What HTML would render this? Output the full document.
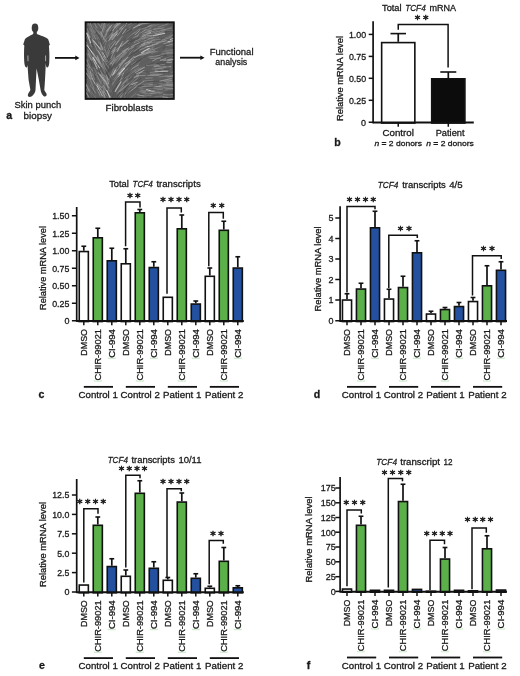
<!DOCTYPE html>
<html lang="en"><head><meta charset="utf-8"><title>Figure</title>
<style>html,body{margin:0;padding:0;background:#fff}body{width:520px;height:676px;overflow:hidden}svg{display:block}text{white-space:pre;stroke:#1a1a1a;stroke-width:.3px}</style>
</head><body>
<svg width="520" height="676" viewBox="0 0 520 676" font-family='"Liberation Sans", sans-serif' fill="#1a1a1a">
<rect width="520" height="676" fill="#ffffff"/>
<g id="pa">
<g fill="#3a3a3a"><ellipse cx="35" cy="27.9" rx="3.3" ry="4.3"/><path d="M33.4 30.5 L33.2 34 C31 35.5 27 36.5 25 39 L23.2 44.6 L24.3 45.6 C24 50 23.9 56 24.2 61 C24.3 64 24.8 67 26.3 67.6 C27.8 67.4 28.2 64 28 61 L27.7 68 L28.6 80 L30.4 90 C29.5 92 27.3 94 27.9 96 C29 97.9 32 97.2 33.5 94.6 C34.8 93 35.3 91.5 35.5 90 L36.2 76 L36.6 68.5 L38.5 78 L40.6 90 C40.8 92 42 94.5 43.5 96 C45 97.2 47.2 96.2 46.6 94 C46 92.5 44.8 91.5 44.3 90 L45 80 L45.6 68 L45.6 61 C45.5 64 46 67.4 47.4 67.6 C48.9 67 49.3 64 49.3 61 C49.6 56 49.3 50 48.9 45.8 L49.9 44.8 L48.3 39.5 C46.5 36.8 39.5 35.5 36.9 34 L36.7 30.5 Z"/></g>
<path d="M27.9 55.5L28 61.2M45.6 55.5L45.6 61.2" stroke="#d8d8d8" stroke-width="0.7" fill="none"/>
<line x1="55" y1="57.9" x2="76.5" y2="57.9" stroke="#111111" stroke-width="1.8" stroke-linecap="butt"/>
<path d="M79.5 57.9L75.3 55.6L75.3 60.199999999999996Z" fill="#111111"/>
<line x1="180" y1="57.7" x2="201.6" y2="57.7" stroke="#111111" stroke-width="1.8" stroke-linecap="butt"/>
<path d="M204.6 57.7L200.4 55.400000000000006L200.4 60.0Z" fill="#111111"/>
<rect x="85.6" y="22.3" width="88.2" height="76.6" fill="#606060" stroke="#111" stroke-width="1.9"/>
<g clip-path="url(#clipimg)" stroke-linecap="round" fill="none" filter="url(#soft)">
<path d="M111.6 37.9L117.1 30.5" stroke="rgb(138,138,138)" stroke-opacity="0.82" stroke-width="0.67"/>
<path d="M95.4 57.2L91.9 51.2" stroke="rgb(213,213,213)" stroke-opacity="0.85" stroke-width="0.62"/>
<path d="M107.0 73.7L104.3 66.0" stroke="rgb(63,63,63)" stroke-opacity="0.62" stroke-width="0.62"/>
<path d="M119.5 67.0L125.8 59.7" stroke="rgb(221,221,221)" stroke-opacity="0.63" stroke-width="0.86"/>
<path d="M100.8 34.8L104.3 25.5" stroke="rgb(169,169,169)" stroke-opacity="0.65" stroke-width="0.72"/>
<path d="M134.3 59.1L140.0 54.5" stroke="rgb(84,84,84)" stroke-opacity="0.71" stroke-width="0.60"/>
<path d="M110.0 64.3L114.6 55.6" stroke="rgb(167,167,167)" stroke-opacity="0.65" stroke-width="0.97"/>
<path d="M100.4 61.9L98.4 57.0" stroke="rgb(86,86,86)" stroke-opacity="0.62" stroke-width="0.98"/>
<path d="M152.0 50.0L162.8 46.6" stroke="rgb(140,140,140)" stroke-opacity="0.83" stroke-width="0.81"/>
<path d="M138.9 28.8L149.1 26.1" stroke="rgb(83,83,83)" stroke-opacity="0.73" stroke-width="0.71"/>
<path d="M117.5 75.1L122.1 70.7" stroke="rgb(138,138,138)" stroke-opacity="0.58" stroke-width="0.71"/>
<path d="M144.5 54.2L156.4 51.1" stroke="rgb(145,145,145)" stroke-opacity="0.66" stroke-width="0.85"/>
<path d="M158.9 84.1L167.2 84.3" stroke="rgb(159,159,159)" stroke-opacity="0.84" stroke-width="0.63"/>
<path d="M103.4 43.2L99.7 37.3" stroke="rgb(172,172,172)" stroke-opacity="0.56" stroke-width="0.71"/>
<path d="M100.5 65.4L97.3 60.4" stroke="rgb(81,81,81)" stroke-opacity="0.66" stroke-width="0.96"/>
<path d="M121.8 92.8L130.1 83.3" stroke="rgb(79,79,79)" stroke-opacity="0.56" stroke-width="0.77"/>
<path d="M96.7 73.4L93.8 67.3" stroke="rgb(156,156,156)" stroke-opacity="0.71" stroke-width="0.61"/>
<path d="M130.1 66.3L140.9 59.8" stroke="rgb(64,64,64)" stroke-opacity="0.75" stroke-width="0.89"/>
<path d="M100.7 44.3L97.5 39.2" stroke="rgb(76,76,76)" stroke-opacity="0.59" stroke-width="0.72"/>
<path d="M100.8 84.0L96.6 73.9" stroke="rgb(179,179,179)" stroke-opacity="0.56" stroke-width="0.56"/>
<path d="M166.3 62.7L171.5 62.2" stroke="rgb(176,176,176)" stroke-opacity="0.80" stroke-width="0.93"/>
<path d="M107.1 52.9L110.8 47.8" stroke="rgb(79,79,79)" stroke-opacity="0.62" stroke-width="0.83"/>
<path d="M138.5 70.0L144.6 67.5" stroke="rgb(160,160,160)" stroke-opacity="0.76" stroke-width="0.67"/>
<path d="M129.5 51.4L133.0 47.6" stroke="rgb(152,152,152)" stroke-opacity="0.67" stroke-width="0.66"/>
<path d="M135.3 50.2L142.4 47.1" stroke="rgb(64,64,64)" stroke-opacity="0.49" stroke-width="0.67"/>
<path d="M106.4 42.1L100.2 34.3" stroke="rgb(88,88,88)" stroke-opacity="0.40" stroke-width="1.05"/>
<path d="M113.7 74.3L118.5 67.7" stroke="rgb(68,68,68)" stroke-opacity="0.59" stroke-width="0.65"/>
<path d="M149.4 49.3L160.3 46.2" stroke="rgb(74,74,74)" stroke-opacity="0.59" stroke-width="0.96"/>
<path d="M95.7 39.1L91.4 30.4" stroke="rgb(176,176,176)" stroke-opacity="0.55" stroke-width="1.00"/>
<path d="M167.6 72.2L175.4 71.9" stroke="rgb(143,143,143)" stroke-opacity="0.51" stroke-width="0.99"/>
<path d="M143.2 32.3L155.6 28.8" stroke="rgb(148,148,148)" stroke-opacity="0.51" stroke-width="0.67"/>
<path d="M127.0 82.6L132.6 77.4" stroke="rgb(143,143,143)" stroke-opacity="0.52" stroke-width="0.96"/>
<path d="M158.5 72.3L170.1 72.6" stroke="rgb(66,66,66)" stroke-opacity="0.61" stroke-width="0.84"/>
<path d="M89.7 58.4L85.9 53.2" stroke="rgb(144,144,144)" stroke-opacity="0.56" stroke-width="0.81"/>
<path d="M144.9 66.2L153.7 62.8" stroke="rgb(65,65,65)" stroke-opacity="0.75" stroke-width="0.58"/>
<path d="M101.3 28.5L104.4 23.6" stroke="rgb(136,136,136)" stroke-opacity="0.77" stroke-width="1.05"/>
<path d="M121.5 72.9L128.0 64.5" stroke="rgb(169,169,169)" stroke-opacity="0.78" stroke-width="0.83"/>
<path d="M105.4 67.6L110.1 56.5" stroke="rgb(79,79,79)" stroke-opacity="0.76" stroke-width="0.66"/>
<path d="M121.6 57.9L128.7 50.3" stroke="rgb(148,148,148)" stroke-opacity="0.73" stroke-width="0.98"/>
<path d="M159.0 35.4L169.5 33.5" stroke="rgb(66,66,66)" stroke-opacity="0.50" stroke-width="0.63"/>
<path d="M124.2 80.4L129.6 77.1" stroke="rgb(69,69,69)" stroke-opacity="0.46" stroke-width="0.79"/>
<path d="M128.2 49.8L133.9 46.7" stroke="rgb(181,181,181)" stroke-opacity="0.63" stroke-width="0.74"/>
<path d="M123.7 78.3L128.5 72.7" stroke="rgb(65,65,65)" stroke-opacity="0.79" stroke-width="0.98"/>
<path d="M167.2 31.3L174.3 30.2" stroke="rgb(184,184,184)" stroke-opacity="0.56" stroke-width="0.97"/>
<path d="M153.5 87.1L161.6 85.8" stroke="rgb(167,167,167)" stroke-opacity="0.70" stroke-width="0.94"/>
<path d="M97.6 31.1L90.4 23.4" stroke="rgb(139,139,139)" stroke-opacity="0.59" stroke-width="0.56"/>
<path d="M95.8 45.4L92.0 39.4" stroke="rgb(135,135,135)" stroke-opacity="0.62" stroke-width="0.85"/>
<path d="M163.9 43.8L169.7 42.1" stroke="rgb(150,150,150)" stroke-opacity="0.83" stroke-width="1.08"/>
<path d="M106.0 40.0L112.0 32.9" stroke="rgb(163,163,163)" stroke-opacity="0.68" stroke-width="0.65"/>
<path d="M114.3 27.1L118.5 21.5" stroke="rgb(181,181,181)" stroke-opacity="0.68" stroke-width="1.09"/>
<path d="M127.4 44.9L134.5 37.6" stroke="rgb(79,79,79)" stroke-opacity="0.73" stroke-width="0.77"/>
<path d="M125.0 78.1L135.5 70.6" stroke="rgb(180,180,180)" stroke-opacity="0.76" stroke-width="0.63"/>
<path d="M167.3 96.5L177.3 96.2" stroke="rgb(75,75,75)" stroke-opacity="0.47" stroke-width="0.60"/>
<path d="M154.2 88.3L164.6 87.7" stroke="rgb(150,150,150)" stroke-opacity="0.74" stroke-width="0.57"/>
<path d="M103.7 46.6L100.9 39.5" stroke="rgb(72,72,72)" stroke-opacity="0.50" stroke-width="1.08"/>
<path d="M111.7 51.6L114.6 47.5" stroke="rgb(165,165,165)" stroke-opacity="0.60" stroke-width="0.91"/>
<path d="M108.7 83.9L106.9 78.0" stroke="rgb(235,235,235)" stroke-opacity="0.61" stroke-width="0.72"/>
<path d="M108.1 71.0L104.8 62.4" stroke="rgb(83,83,83)" stroke-opacity="0.76" stroke-width="0.98"/>
<path d="M135.0 82.0L141.2 78.2" stroke="rgb(66,66,66)" stroke-opacity="0.42" stroke-width="1.01"/>
<path d="M158.4 70.8L169.2 68.9" stroke="rgb(66,66,66)" stroke-opacity="0.76" stroke-width="0.96"/>
<path d="M130.4 85.9L140.9 81.5" stroke="rgb(84,84,84)" stroke-opacity="0.66" stroke-width="0.60"/>
<path d="M92.7 76.2L87.0 64.9" stroke="rgb(163,163,163)" stroke-opacity="0.70" stroke-width="0.90"/>
<path d="M135.0 74.1L146.4 73.6" stroke="rgb(78,78,78)" stroke-opacity="0.76" stroke-width="0.60"/>
<path d="M128.4 81.3L135.5 76.0" stroke="rgb(70,70,70)" stroke-opacity="0.49" stroke-width="0.97"/>
<path d="M108.1 73.6L104.4 69.4" stroke="rgb(71,71,71)" stroke-opacity="0.71" stroke-width="0.89"/>
<path d="M139.2 29.8L145.0 27.6" stroke="rgb(182,182,182)" stroke-opacity="0.74" stroke-width="0.89"/>
<path d="M99.9 61.0L95.7 57.0" stroke="rgb(166,166,166)" stroke-opacity="0.60" stroke-width="0.83"/>
<path d="M124.3 59.7L128.9 55.9" stroke="rgb(68,68,68)" stroke-opacity="0.52" stroke-width="0.60"/>
<path d="M121.9 48.1L132.8 41.1" stroke="rgb(74,74,74)" stroke-opacity="0.48" stroke-width="1.07"/>
<path d="M105.8 69.2L103.3 63.6" stroke="rgb(158,158,158)" stroke-opacity="0.55" stroke-width="1.00"/>
<path d="M125.9 93.2L135.1 85.2" stroke="rgb(136,136,136)" stroke-opacity="0.56" stroke-width="1.07"/>
<path d="M140.6 55.6L150.4 50.9" stroke="rgb(159,159,159)" stroke-opacity="0.61" stroke-width="1.01"/>
<path d="M89.1 84.6L83.6 73.5" stroke="rgb(85,85,85)" stroke-opacity="0.52" stroke-width="0.75"/>
<path d="M117.8 101.7L123.0 93.5" stroke="rgb(162,162,162)" stroke-opacity="0.76" stroke-width="1.02"/>
<path d="M109.1 29.4L112.2 24.1" stroke="rgb(75,75,75)" stroke-opacity="0.60" stroke-width="0.65"/>
<path d="M116.1 99.9L121.3 89.0" stroke="rgb(82,82,82)" stroke-opacity="0.56" stroke-width="1.03"/>
<path d="M130.5 39.4L138.3 36.8" stroke="rgb(66,66,66)" stroke-opacity="0.66" stroke-width="0.71"/>
<path d="M91.5 95.0L89.4 89.4" stroke="rgb(156,156,156)" stroke-opacity="0.60" stroke-width="0.69"/>
<path d="M146.1 72.2L154.9 71.3" stroke="rgb(65,65,65)" stroke-opacity="0.47" stroke-width="0.64"/>
<path d="M106.2 94.7L102.4 86.6" stroke="rgb(156,156,156)" stroke-opacity="0.85" stroke-width="0.80"/>
<path d="M99.5 39.9L97.2 34.6" stroke="rgb(151,151,151)" stroke-opacity="0.78" stroke-width="0.66"/>
<path d="M89.6 91.7L86.3 84.4" stroke="rgb(68,68,68)" stroke-opacity="0.55" stroke-width="0.74"/>
<path d="M93.5 47.8L89.7 39.6" stroke="rgb(68,68,68)" stroke-opacity="0.44" stroke-width="1.04"/>
<path d="M117.0 74.5L122.3 67.9" stroke="rgb(136,136,136)" stroke-opacity="0.54" stroke-width="0.78"/>
<path d="M149.9 82.8L155.4 83.3" stroke="rgb(88,88,88)" stroke-opacity="0.61" stroke-width="0.81"/>
<path d="M122.9 83.9L127.6 79.0" stroke="rgb(178,178,178)" stroke-opacity="0.54" stroke-width="1.00"/>
<path d="M141.6 86.2L152.8 86.2" stroke="rgb(143,143,143)" stroke-opacity="0.58" stroke-width="1.06"/>
<path d="M139.6 46.9L145.1 44.3" stroke="rgb(175,175,175)" stroke-opacity="0.65" stroke-width="0.97"/>
<path d="M96.3 48.6L93.4 42.1" stroke="rgb(62,62,62)" stroke-opacity="0.40" stroke-width="0.72"/>
<path d="M122.8 98.3L129.7 90.9" stroke="rgb(77,77,77)" stroke-opacity="0.61" stroke-width="0.85"/>
<path d="M90.4 56.6L87.1 50.8" stroke="rgb(82,82,82)" stroke-opacity="0.57" stroke-width="0.69"/>
<path d="M140.9 92.3L147.7 91.9" stroke="rgb(156,156,156)" stroke-opacity="0.75" stroke-width="0.75"/>
<path d="M118.9 25.5L122.5 21.3" stroke="rgb(147,147,147)" stroke-opacity="0.61" stroke-width="1.00"/>
<path d="M102.7 43.7L109.8 35.2" stroke="rgb(174,174,174)" stroke-opacity="0.67" stroke-width="0.65"/>
<path d="M107.5 56.6L103.8 51.6" stroke="rgb(148,148,148)" stroke-opacity="0.51" stroke-width="0.88"/>
<path d="M120.8 78.9L123.8 73.1" stroke="rgb(180,180,180)" stroke-opacity="0.81" stroke-width="0.95"/>
<path d="M166.8 93.0L179.2 92.1" stroke="rgb(63,63,63)" stroke-opacity="0.52" stroke-width="0.95"/>
<path d="M154.9 96.4L163.5 96.7" stroke="rgb(140,140,140)" stroke-opacity="0.60" stroke-width="0.74"/>
<path d="M165.5 32.8L173.2 31.5" stroke="rgb(88,88,88)" stroke-opacity="0.72" stroke-width="0.60"/>
<path d="M143.1 39.1L152.0 36.0" stroke="rgb(155,155,155)" stroke-opacity="0.63" stroke-width="1.04"/>
<path d="M89.9 56.1L87.8 51.2" stroke="rgb(139,139,139)" stroke-opacity="0.78" stroke-width="0.58"/>
<path d="M101.9 32.4L104.4 22.8" stroke="rgb(156,156,156)" stroke-opacity="0.84" stroke-width="0.89"/>
<path d="M110.3 78.7L107.7 74.3" stroke="rgb(87,87,87)" stroke-opacity="0.65" stroke-width="1.07"/>
<path d="M90.0 44.4L86.6 36.3" stroke="rgb(86,86,86)" stroke-opacity="0.55" stroke-width="0.69"/>
<path d="M119.3 63.5L127.9 56.1" stroke="rgb(88,88,88)" stroke-opacity="0.68" stroke-width="0.63"/>
<path d="M108.9 91.1L104.6 83.6" stroke="rgb(81,81,81)" stroke-opacity="0.43" stroke-width="0.66"/>
<path d="M147.1 42.4L156.3 40.4" stroke="rgb(162,162,162)" stroke-opacity="0.81" stroke-width="1.09"/>
<path d="M107.6 31.6L110.9 26.8" stroke="rgb(180,180,180)" stroke-opacity="0.84" stroke-width="0.65"/>
<path d="M99.7 61.6L95.9 53.1" stroke="rgb(86,86,86)" stroke-opacity="0.45" stroke-width="1.01"/>
<path d="M110.0 68.9L113.5 61.7" stroke="rgb(68,68,68)" stroke-opacity="0.58" stroke-width="0.65"/>
<path d="M105.3 46.3L108.1 41.6" stroke="rgb(150,150,150)" stroke-opacity="0.68" stroke-width="0.68"/>
<path d="M150.1 72.3L163.0 71.3" stroke="rgb(165,165,165)" stroke-opacity="0.81" stroke-width="0.68"/>
<path d="M123.1 52.6L127.3 49.2" stroke="rgb(247,247,247)" stroke-opacity="0.66" stroke-width="0.59"/>
<path d="M127.0 39.3L134.6 33.1" stroke="rgb(83,83,83)" stroke-opacity="0.78" stroke-width="0.61"/>
<path d="M135.4 70.7L140.8 67.8" stroke="rgb(151,151,151)" stroke-opacity="0.51" stroke-width="0.95"/>
<path d="M160.0 83.4L171.5 84.3" stroke="rgb(158,158,158)" stroke-opacity="0.56" stroke-width="0.72"/>
<path d="M105.4 84.9L102.4 79.9" stroke="rgb(170,170,170)" stroke-opacity="0.55" stroke-width="0.84"/>
<path d="M139.7 54.1L146.3 51.2" stroke="rgb(83,83,83)" stroke-opacity="0.52" stroke-width="1.07"/>
<path d="M110.6 70.6L116.1 60.0" stroke="rgb(73,73,73)" stroke-opacity="0.66" stroke-width="0.76"/>
<path d="M118.5 96.4L124.4 90.3" stroke="rgb(142,142,142)" stroke-opacity="0.79" stroke-width="0.77"/>
<path d="M158.4 58.3L167.6 56.5" stroke="rgb(74,74,74)" stroke-opacity="0.44" stroke-width="0.89"/>
<path d="M116.5 63.0L120.5 58.3" stroke="rgb(168,168,168)" stroke-opacity="0.56" stroke-width="0.59"/>
<path d="M117.1 82.1L122.0 76.5" stroke="rgb(63,63,63)" stroke-opacity="0.79" stroke-width="0.82"/>
<path d="M93.4 95.3L88.2 89.1" stroke="rgb(81,81,81)" stroke-opacity="0.68" stroke-width="1.04"/>
<path d="M138.7 87.5L145.2 86.5" stroke="rgb(171,171,171)" stroke-opacity="0.58" stroke-width="0.77"/>
<path d="M129.1 53.6L133.4 49.6" stroke="rgb(181,181,181)" stroke-opacity="0.79" stroke-width="0.66"/>
<path d="M159.3 86.4L166.9 85.5" stroke="rgb(164,164,164)" stroke-opacity="0.69" stroke-width="0.89"/>
<path d="M110.8 58.7L114.8 49.9" stroke="rgb(177,177,177)" stroke-opacity="0.63" stroke-width="0.83"/>
<path d="M99.5 26.8L104.0 19.5" stroke="rgb(88,88,88)" stroke-opacity="0.58" stroke-width="0.65"/>
<path d="M125.1 32.9L129.7 29.0" stroke="rgb(140,140,140)" stroke-opacity="0.78" stroke-width="0.83"/>
<path d="M139.7 26.7L147.1 25.2" stroke="rgb(64,64,64)" stroke-opacity="0.42" stroke-width="0.83"/>
<path d="M116.9 96.1L121.3 91.9" stroke="rgb(81,81,81)" stroke-opacity="0.69" stroke-width="1.00"/>
<path d="M107.4 100.7L98.7 92.0" stroke="rgb(185,185,185)" stroke-opacity="0.75" stroke-width="0.67"/>
<path d="M155.2 69.1L162.1 68.0" stroke="rgb(174,174,174)" stroke-opacity="0.60" stroke-width="1.00"/>
<path d="M100.1 63.7L97.3 57.2" stroke="rgb(155,155,155)" stroke-opacity="0.63" stroke-width="0.66"/>
<path d="M119.0 73.3L123.6 67.7" stroke="rgb(159,159,159)" stroke-opacity="0.56" stroke-width="0.98"/>
<path d="M99.4 67.7L93.0 57.5" stroke="rgb(247,247,247)" stroke-opacity="0.81" stroke-width="1.04"/>
<path d="M106.2 68.6L110.0 57.4" stroke="rgb(73,73,73)" stroke-opacity="0.51" stroke-width="1.09"/>
<path d="M133.6 51.4L139.2 48.3" stroke="rgb(63,63,63)" stroke-opacity="0.52" stroke-width="0.83"/>
<path d="M111.5 100.9L114.8 89.4" stroke="rgb(72,72,72)" stroke-opacity="0.69" stroke-width="0.96"/>
<path d="M104.2 48.4L106.8 40.9" stroke="rgb(166,166,166)" stroke-opacity="0.58" stroke-width="0.91"/>
<path d="M90.3 26.4L86.0 19.8" stroke="rgb(157,157,157)" stroke-opacity="0.69" stroke-width="0.78"/>
<path d="M111.0 35.7L113.9 30.1" stroke="rgb(150,150,150)" stroke-opacity="0.75" stroke-width="0.80"/>
<path d="M93.4 38.6L90.1 28.8" stroke="rgb(151,151,151)" stroke-opacity="0.84" stroke-width="0.58"/>
<path d="M152.8 90.5L162.5 88.9" stroke="rgb(166,166,166)" stroke-opacity="0.59" stroke-width="1.05"/>
<path d="M92.3 66.1L87.8 59.2" stroke="rgb(138,138,138)" stroke-opacity="0.82" stroke-width="0.61"/>
<path d="M135.4 74.0L143.6 70.0" stroke="rgb(82,82,82)" stroke-opacity="0.66" stroke-width="1.00"/>
<path d="M102.7 49.5L100.0 42.6" stroke="rgb(181,181,181)" stroke-opacity="0.77" stroke-width="0.94"/>
<path d="M89.3 90.9L84.2 81.2" stroke="rgb(149,149,149)" stroke-opacity="0.85" stroke-width="0.69"/>
<path d="M137.0 35.2L147.4 29.0" stroke="rgb(70,70,70)" stroke-opacity="0.68" stroke-width="0.70"/>
<path d="M131.3 57.4L137.4 53.7" stroke="rgb(68,68,68)" stroke-opacity="0.43" stroke-width="0.83"/>
<path d="M104.4 95.3L97.5 85.8" stroke="rgb(145,145,145)" stroke-opacity="0.76" stroke-width="0.73"/>
<path d="M157.9 48.5L167.7 46.5" stroke="rgb(83,83,83)" stroke-opacity="0.74" stroke-width="0.84"/>
<path d="M125.0 63.7L129.5 61.5" stroke="rgb(181,181,181)" stroke-opacity="0.58" stroke-width="1.04"/>
<path d="M151.9 53.3L157.9 51.1" stroke="rgb(142,142,142)" stroke-opacity="0.54" stroke-width="1.06"/>
<path d="M114.7 35.6L117.7 31.4" stroke="rgb(179,179,179)" stroke-opacity="0.73" stroke-width="0.57"/>
<path d="M93.3 29.5L90.9 23.3" stroke="rgb(79,79,79)" stroke-opacity="0.76" stroke-width="0.59"/>
<path d="M155.5 92.5L167.9 90.1" stroke="rgb(148,148,148)" stroke-opacity="0.57" stroke-width="0.57"/>
<path d="M163.3 91.2L174.3 90.9" stroke="rgb(77,77,77)" stroke-opacity="0.44" stroke-width="0.60"/>
<path d="M148.5 39.3L155.7 37.1" stroke="rgb(136,136,136)" stroke-opacity="0.62" stroke-width="1.06"/>
<path d="M91.9 84.4L88.9 75.1" stroke="rgb(153,153,153)" stroke-opacity="0.72" stroke-width="0.57"/>
<path d="M118.7 60.0L125.6 51.1" stroke="rgb(180,180,180)" stroke-opacity="0.52" stroke-width="0.86"/>
<path d="M144.1 85.3L152.6 84.3" stroke="rgb(153,153,153)" stroke-opacity="0.77" stroke-width="1.09"/>
<path d="M88.8 63.5L84.3 55.8" stroke="rgb(67,67,67)" stroke-opacity="0.79" stroke-width="0.88"/>
<path d="M163.9 62.9L175.1 60.0" stroke="rgb(69,69,69)" stroke-opacity="0.60" stroke-width="0.61"/>
<path d="M136.5 31.4L146.7 26.5" stroke="rgb(87,87,87)" stroke-opacity="0.44" stroke-width="0.73"/>
<path d="M95.9 96.3L93.1 88.4" stroke="rgb(73,73,73)" stroke-opacity="0.48" stroke-width="0.69"/>
<path d="M160.8 61.6L168.4 59.1" stroke="rgb(69,69,69)" stroke-opacity="0.78" stroke-width="0.62"/>
<path d="M133.8 77.0L142.0 71.9" stroke="rgb(163,163,163)" stroke-opacity="0.73" stroke-width="0.96"/>
<path d="M103.7 60.6L98.2 50.8" stroke="rgb(218,218,218)" stroke-opacity="0.70" stroke-width="0.90"/>
<path d="M141.4 62.9L152.2 58.8" stroke="rgb(85,85,85)" stroke-opacity="0.46" stroke-width="0.69"/>
<path d="M112.4 64.1L116.9 59.8" stroke="rgb(147,147,147)" stroke-opacity="0.59" stroke-width="1.08"/>
<path d="M169.8 36.1L175.7 34.3" stroke="rgb(154,154,154)" stroke-opacity="0.76" stroke-width="0.79"/>
<path d="M104.8 73.1L101.7 68.1" stroke="rgb(159,159,159)" stroke-opacity="0.66" stroke-width="0.56"/>
<path d="M156.9 56.1L164.2 55.0" stroke="rgb(151,151,151)" stroke-opacity="0.71" stroke-width="0.77"/>
<path d="M146.6 89.6L154.7 92.1" stroke="rgb(236,236,236)" stroke-opacity="0.85" stroke-width="0.92"/>
<path d="M139.6 89.0L146.3 88.1" stroke="rgb(142,142,142)" stroke-opacity="0.66" stroke-width="0.72"/>
<path d="M137.3 32.4L144.4 28.0" stroke="rgb(84,84,84)" stroke-opacity="0.69" stroke-width="0.64"/>
<path d="M155.5 58.8L164.7 59.2" stroke="rgb(67,67,67)" stroke-opacity="0.76" stroke-width="0.73"/>
<path d="M89.8 90.6L84.4 79.6" stroke="rgb(151,151,151)" stroke-opacity="0.69" stroke-width="0.64"/>
<path d="M149.4 93.7L159.0 92.8" stroke="rgb(180,180,180)" stroke-opacity="0.67" stroke-width="0.56"/>
<path d="M151.4 51.4L158.9 49.7" stroke="rgb(76,76,76)" stroke-opacity="0.48" stroke-width="0.93"/>
<path d="M117.2 82.3L123.5 77.6" stroke="rgb(152,152,152)" stroke-opacity="0.63" stroke-width="0.58"/>
<path d="M94.0 96.2L91.5 86.5" stroke="rgb(80,80,80)" stroke-opacity="0.51" stroke-width="0.67"/>
<path d="M145.0 93.9L156.4 92.5" stroke="rgb(148,148,148)" stroke-opacity="0.56" stroke-width="1.06"/>
<path d="M93.8 85.5L90.6 79.8" stroke="rgb(85,85,85)" stroke-opacity="0.49" stroke-width="1.08"/>
<path d="M114.0 74.0L119.8 67.4" stroke="rgb(170,170,170)" stroke-opacity="0.73" stroke-width="0.98"/>
<path d="M125.0 84.3L129.0 78.7" stroke="rgb(83,83,83)" stroke-opacity="0.50" stroke-width="0.78"/>
<path d="M101.0 26.3L103.8 19.9" stroke="rgb(165,165,165)" stroke-opacity="0.67" stroke-width="0.89"/>
<path d="M95.3 92.6L91.9 87.4" stroke="rgb(159,159,159)" stroke-opacity="0.52" stroke-width="1.01"/>
<path d="M160.0 81.0L170.0 82.1" stroke="rgb(135,135,135)" stroke-opacity="0.57" stroke-width="0.59"/>
<path d="M108.7 72.1L114.7 64.6" stroke="rgb(67,67,67)" stroke-opacity="0.71" stroke-width="0.74"/>
<path d="M102.2 95.9L96.7 85.1" stroke="rgb(215,215,215)" stroke-opacity="0.80" stroke-width="1.04"/>
<path d="M151.5 86.0L158.0 85.3" stroke="rgb(78,78,78)" stroke-opacity="0.43" stroke-width="1.01"/>
<path d="M139.0 33.2L150.2 30.1" stroke="rgb(170,170,170)" stroke-opacity="0.52" stroke-width="0.81"/>
<path d="M100.5 63.8L97.0 55.5" stroke="rgb(182,182,182)" stroke-opacity="0.50" stroke-width="1.01"/>
<path d="M124.2 68.0L129.6 62.0" stroke="rgb(178,178,178)" stroke-opacity="0.53" stroke-width="0.90"/>
<path d="M137.5 27.9L145.6 22.2" stroke="rgb(72,72,72)" stroke-opacity="0.72" stroke-width="0.60"/>
<path d="M125.1 82.1L131.6 77.0" stroke="rgb(141,141,141)" stroke-opacity="0.80" stroke-width="0.75"/>
<path d="M123.0 65.6L131.9 58.9" stroke="rgb(162,162,162)" stroke-opacity="0.62" stroke-width="0.69"/>
<path d="M92.9 47.7L88.7 41.3" stroke="rgb(78,78,78)" stroke-opacity="0.54" stroke-width="0.66"/>
<path d="M126.2 33.4L131.8 30.0" stroke="rgb(66,66,66)" stroke-opacity="0.63" stroke-width="0.90"/>
<path d="M150.0 27.3L158.9 24.4" stroke="rgb(154,154,154)" stroke-opacity="0.54" stroke-width="0.58"/>
<path d="M152.7 60.8L162.7 56.1" stroke="rgb(167,167,167)" stroke-opacity="0.82" stroke-width="0.89"/>
<path d="M135.4 72.5L144.3 67.1" stroke="rgb(177,177,177)" stroke-opacity="0.72" stroke-width="0.89"/>
<path d="M104.9 77.3L97.8 67.7" stroke="rgb(141,141,141)" stroke-opacity="0.82" stroke-width="0.91"/>
<path d="M116.2 87.2L120.4 81.6" stroke="rgb(161,161,161)" stroke-opacity="0.51" stroke-width="0.56"/>
<path d="M130.8 70.2L140.1 62.1" stroke="rgb(168,168,168)" stroke-opacity="0.51" stroke-width="0.62"/>
<path d="M154.1 66.1L159.2 65.8" stroke="rgb(172,172,172)" stroke-opacity="0.85" stroke-width="0.91"/>
<path d="M102.2 84.5L97.2 76.5" stroke="rgb(165,165,165)" stroke-opacity="0.57" stroke-width="0.63"/>
<path d="M90.7 28.8L84.4 17.7" stroke="rgb(142,142,142)" stroke-opacity="0.55" stroke-width="0.56"/>
<path d="M143.7 42.9L153.9 39.2" stroke="rgb(138,138,138)" stroke-opacity="0.63" stroke-width="0.96"/>
<path d="M142.2 35.2L151.1 32.2" stroke="rgb(177,177,177)" stroke-opacity="0.83" stroke-width="0.69"/>
<path d="M167.6 76.9L172.6 76.2" stroke="rgb(176,176,176)" stroke-opacity="0.74" stroke-width="0.89"/>
<path d="M117.2 51.4L122.9 41.2" stroke="rgb(230,230,230)" stroke-opacity="0.71" stroke-width="0.87"/>
<path d="M122.6 76.1L126.1 71.0" stroke="rgb(73,73,73)" stroke-opacity="0.78" stroke-width="0.64"/>
<path d="M152.4 59.2L159.5 58.0" stroke="rgb(72,72,72)" stroke-opacity="0.52" stroke-width="0.58"/>
<path d="M165.2 76.5L176.7 74.6" stroke="rgb(173,173,173)" stroke-opacity="0.75" stroke-width="0.56"/>
<path d="M101.8 87.7L96.9 82.7" stroke="rgb(159,159,159)" stroke-opacity="0.71" stroke-width="1.04"/>
<path d="M154.1 45.1L158.8 43.1" stroke="rgb(162,162,162)" stroke-opacity="0.56" stroke-width="1.06"/>
<path d="M146.6 81.8L158.7 81.2" stroke="rgb(66,66,66)" stroke-opacity="0.51" stroke-width="1.02"/>
<path d="M150.3 73.9L162.6 74.3" stroke="rgb(140,140,140)" stroke-opacity="0.69" stroke-width="0.82"/>
<path d="M117.3 84.9L121.5 78.7" stroke="rgb(160,160,160)" stroke-opacity="0.66" stroke-width="0.66"/>
<path d="M112.5 82.9L104.2 75.2" stroke="rgb(140,140,140)" stroke-opacity="0.69" stroke-width="0.75"/>
<path d="M94.9 57.6L88.4 47.8" stroke="rgb(167,167,167)" stroke-opacity="0.71" stroke-width="0.65"/>
<path d="M105.5 41.1L100.4 31.8" stroke="rgb(171,171,171)" stroke-opacity="0.63" stroke-width="0.98"/>
<path d="M154.8 42.0L166.7 40.7" stroke="rgb(164,164,164)" stroke-opacity="0.78" stroke-width="0.64"/>
<path d="M134.3 51.1L142.0 46.3" stroke="rgb(137,137,137)" stroke-opacity="0.57" stroke-width="1.03"/>
<path d="M132.2 68.5L138.6 65.0" stroke="rgb(163,163,163)" stroke-opacity="0.77" stroke-width="1.00"/>
<path d="M167.4 41.8L172.7 42.0" stroke="rgb(146,146,146)" stroke-opacity="0.63" stroke-width="0.57"/>
<path d="M92.2 55.6L86.3 45.5" stroke="rgb(81,81,81)" stroke-opacity="0.66" stroke-width="1.06"/>
<path d="M144.2 31.2L151.1 28.0" stroke="rgb(140,140,140)" stroke-opacity="0.83" stroke-width="0.92"/>
<path d="M115.3 60.4L125.5 52.4" stroke="rgb(137,137,137)" stroke-opacity="0.83" stroke-width="1.07"/>
<path d="M91.9 66.8L90.8 61.7" stroke="rgb(70,70,70)" stroke-opacity="0.71" stroke-width="0.94"/>
<path d="M136.9 96.5L148.0 96.8" stroke="rgb(83,83,83)" stroke-opacity="0.70" stroke-width="0.87"/>
<path d="M121.4 74.7L127.8 68.7" stroke="rgb(159,159,159)" stroke-opacity="0.54" stroke-width="0.81"/>
<path d="M101.8 43.1L99.9 38.4" stroke="rgb(68,68,68)" stroke-opacity="0.72" stroke-width="0.64"/>
<path d="M153.7 29.3L163.6 28.1" stroke="rgb(182,182,182)" stroke-opacity="0.55" stroke-width="0.80"/>
<path d="M96.3 96.3L93.0 88.4" stroke="rgb(149,149,149)" stroke-opacity="0.67" stroke-width="0.90"/>
<path d="M100.2 41.7L97.0 37.3" stroke="rgb(79,79,79)" stroke-opacity="0.76" stroke-width="0.79"/>
<path d="M101.4 58.4L97.0 50.0" stroke="rgb(145,145,145)" stroke-opacity="0.59" stroke-width="0.61"/>
<path d="M123.5 61.0L128.3 57.0" stroke="rgb(175,175,175)" stroke-opacity="0.81" stroke-width="0.92"/>
<path d="M106.2 61.5L103.0 55.7" stroke="rgb(151,151,151)" stroke-opacity="0.85" stroke-width="1.06"/>
<path d="M97.0 50.2L92.3 38.9" stroke="rgb(181,181,181)" stroke-opacity="0.84" stroke-width="0.63"/>
<path d="M138.3 58.3L145.4 53.6" stroke="rgb(78,78,78)" stroke-opacity="0.51" stroke-width="0.75"/>
<path d="M91.4 56.7L88.0 50.3" stroke="rgb(146,146,146)" stroke-opacity="0.68" stroke-width="0.68"/>
<path d="M103.4 72.9L99.5 62.8" stroke="rgb(67,67,67)" stroke-opacity="0.48" stroke-width="0.89"/>
<path d="M143.1 84.8L152.4 82.4" stroke="rgb(139,139,139)" stroke-opacity="0.74" stroke-width="0.84"/>
<path d="M155.8 92.0L163.0 90.9" stroke="rgb(77,77,77)" stroke-opacity="0.44" stroke-width="0.78"/>
<path d="M147.6 34.2L157.6 31.5" stroke="rgb(171,171,171)" stroke-opacity="0.79" stroke-width="0.75"/>
<path d="M102.6 54.7L98.2 46.6" stroke="rgb(168,168,168)" stroke-opacity="0.52" stroke-width="0.75"/>
<path d="M110.4 90.4L104.6 79.6" stroke="rgb(74,74,74)" stroke-opacity="0.63" stroke-width="1.04"/>
<path d="M110.1 33.1L113.0 28.8" stroke="rgb(66,66,66)" stroke-opacity="0.41" stroke-width="1.08"/>
<path d="M104.7 39.3L106.6 33.8" stroke="rgb(136,136,136)" stroke-opacity="0.51" stroke-width="1.06"/>
<path d="M146.2 43.2L154.8 41.7" stroke="rgb(163,163,163)" stroke-opacity="0.54" stroke-width="1.03"/>
<path d="M145.9 27.5L151.3 25.0" stroke="rgb(167,167,167)" stroke-opacity="0.77" stroke-width="0.61"/>
<path d="M98.6 91.9L94.9 86.2" stroke="rgb(76,76,76)" stroke-opacity="0.70" stroke-width="0.64"/>
<path d="M154.0 93.3L162.1 92.8" stroke="rgb(173,173,173)" stroke-opacity="0.68" stroke-width="0.77"/>
<path d="M164.3 81.3L171.9 80.7" stroke="rgb(171,171,171)" stroke-opacity="0.78" stroke-width="1.05"/>
<path d="M154.4 86.2L159.8 86.4" stroke="rgb(178,178,178)" stroke-opacity="0.83" stroke-width="0.69"/>
<path d="M121.2 72.4L124.6 68.0" stroke="rgb(167,167,167)" stroke-opacity="0.73" stroke-width="0.67"/>
<path d="M117.7 56.6L127.9 48.6" stroke="rgb(137,137,137)" stroke-opacity="0.78" stroke-width="1.04"/>
<path d="M158.2 27.2L168.1 23.8" stroke="rgb(169,169,169)" stroke-opacity="0.78" stroke-width="0.57"/>
<path d="M96.3 34.2L93.6 29.8" stroke="rgb(137,137,137)" stroke-opacity="0.60" stroke-width="0.72"/>
<path d="M138.9 34.7L146.2 29.1" stroke="rgb(164,164,164)" stroke-opacity="0.71" stroke-width="1.06"/>
<path d="M120.9 66.0L128.1 56.3" stroke="rgb(80,80,80)" stroke-opacity="0.52" stroke-width="0.68"/>
<path d="M95.7 68.2L92.0 59.4" stroke="rgb(68,68,68)" stroke-opacity="0.62" stroke-width="0.75"/>
<path d="M159.7 47.2L167.9 44.0" stroke="rgb(62,62,62)" stroke-opacity="0.50" stroke-width="0.67"/>
<path d="M127.7 54.0L133.9 49.2" stroke="rgb(69,69,69)" stroke-opacity="0.53" stroke-width="0.73"/>
<path d="M111.3 91.6L108.1 85.6" stroke="rgb(136,136,136)" stroke-opacity="0.56" stroke-width="0.59"/>
<path d="M157.8 56.2L166.2 55.4" stroke="rgb(65,65,65)" stroke-opacity="0.61" stroke-width="1.09"/>
<path d="M141.0 92.7L149.3 92.8" stroke="rgb(66,66,66)" stroke-opacity="0.67" stroke-width="0.89"/>
<path d="M154.8 85.6L165.5 83.1" stroke="rgb(77,77,77)" stroke-opacity="0.51" stroke-width="0.90"/>
<path d="M137.1 75.8L145.3 75.3" stroke="rgb(161,161,161)" stroke-opacity="0.77" stroke-width="0.87"/>
<path d="M125.7 99.1L133.3 90.7" stroke="rgb(81,81,81)" stroke-opacity="0.44" stroke-width="1.02"/>
<path d="M142.8 45.9L150.1 43.0" stroke="rgb(168,168,168)" stroke-opacity="0.69" stroke-width="0.76"/>
<path d="M111.8 85.3L116.6 78.2" stroke="rgb(154,154,154)" stroke-opacity="0.78" stroke-width="0.79"/>
<path d="M115.6 44.9L122.4 35.6" stroke="rgb(173,173,173)" stroke-opacity="0.79" stroke-width="1.08"/>
<path d="M105.2 57.2L102.7 52.4" stroke="rgb(241,241,241)" stroke-opacity="0.69" stroke-width="0.85"/>
<path d="M111.2 72.9L115.5 65.6" stroke="rgb(85,85,85)" stroke-opacity="0.67" stroke-width="0.76"/>
<path d="M115.0 72.0L119.7 62.8" stroke="rgb(141,141,141)" stroke-opacity="0.64" stroke-width="0.83"/>
<path d="M139.6 91.7L145.7 93.0" stroke="rgb(161,161,161)" stroke-opacity="0.67" stroke-width="0.79"/>
<path d="M134.8 98.1L146.3 96.7" stroke="rgb(155,155,155)" stroke-opacity="0.63" stroke-width="0.59"/>
<path d="M109.7 39.7L116.8 32.3" stroke="rgb(156,156,156)" stroke-opacity="0.79" stroke-width="1.09"/>
<path d="M159.0 55.1L168.0 53.7" stroke="rgb(147,147,147)" stroke-opacity="0.64" stroke-width="0.58"/>
<path d="M131.1 33.0L139.6 28.8" stroke="rgb(85,85,85)" stroke-opacity="0.42" stroke-width="0.78"/>
<path d="M151.1 46.7L158.3 45.0" stroke="rgb(80,80,80)" stroke-opacity="0.41" stroke-width="0.57"/>
<path d="M103.7 84.6L99.2 76.2" stroke="rgb(79,79,79)" stroke-opacity="0.61" stroke-width="0.63"/>
<path d="M105.2 72.1L101.7 63.7" stroke="rgb(139,139,139)" stroke-opacity="0.56" stroke-width="0.84"/>
<path d="M152.1 69.1L163.5 68.4" stroke="rgb(135,135,135)" stroke-opacity="0.74" stroke-width="0.87"/>
<path d="M101.1 45.1L96.3 36.3" stroke="rgb(80,80,80)" stroke-opacity="0.43" stroke-width="0.66"/>
<path d="M137.4 25.7L143.6 23.0" stroke="rgb(183,183,183)" stroke-opacity="0.84" stroke-width="0.79"/>
<path d="M134.3 42.6L146.0 40.5" stroke="rgb(164,164,164)" stroke-opacity="0.61" stroke-width="0.88"/>
<path d="M163.5 60.7L176.0 59.2" stroke="rgb(159,159,159)" stroke-opacity="0.74" stroke-width="0.87"/>
<path d="M118.0 57.0L126.3 48.4" stroke="rgb(145,145,145)" stroke-opacity="0.63" stroke-width="0.65"/>
<path d="M166.1 45.8L175.3 43.5" stroke="rgb(169,169,169)" stroke-opacity="0.81" stroke-width="0.73"/>
<path d="M138.3 96.1L147.4 93.5" stroke="rgb(164,164,164)" stroke-opacity="0.60" stroke-width="0.68"/>
<path d="M90.6 76.2L87.9 69.0" stroke="rgb(180,180,180)" stroke-opacity="0.55" stroke-width="0.66"/>
<path d="M129.4 85.6L137.8 78.0" stroke="rgb(158,158,158)" stroke-opacity="0.62" stroke-width="0.95"/>
<path d="M117.2 97.4L120.7 91.7" stroke="rgb(78,78,78)" stroke-opacity="0.48" stroke-width="1.02"/>
<path d="M140.7 92.8L149.2 93.9" stroke="rgb(79,79,79)" stroke-opacity="0.50" stroke-width="0.88"/>
<path d="M106.1 90.8L103.3 85.5" stroke="rgb(169,169,169)" stroke-opacity="0.80" stroke-width="0.95"/>
<path d="M150.3 25.8L155.2 24.3" stroke="rgb(84,84,84)" stroke-opacity="0.47" stroke-width="1.02"/>
<path d="M112.8 75.1L115.5 69.9" stroke="rgb(233,233,233)" stroke-opacity="0.84" stroke-width="0.97"/>
<path d="M105.2 82.0L100.7 71.4" stroke="rgb(157,157,157)" stroke-opacity="0.64" stroke-width="1.05"/>
<path d="M147.7 88.8L159.6 89.0" stroke="rgb(152,152,152)" stroke-opacity="0.56" stroke-width="0.75"/>
<path d="M150.4 74.7L161.1 74.5" stroke="rgb(160,160,160)" stroke-opacity="0.62" stroke-width="0.90"/>
<path d="M105.0 36.9L99.0 26.1" stroke="rgb(84,84,84)" stroke-opacity="0.67" stroke-width="0.77"/>
<path d="M134.3 57.6L144.0 52.6" stroke="rgb(250,250,250)" stroke-opacity="0.79" stroke-width="0.65"/>
<path d="M154.0 66.9L164.4 64.2" stroke="rgb(162,162,162)" stroke-opacity="0.73" stroke-width="0.87"/>
<path d="M161.7 32.7L173.5 29.8" stroke="rgb(80,80,80)" stroke-opacity="0.64" stroke-width="0.58"/>
<path d="M105.5 36.5L109.5 25.9" stroke="rgb(157,157,157)" stroke-opacity="0.76" stroke-width="0.60"/>
<path d="M143.2 53.6L150.1 51.1" stroke="rgb(162,162,162)" stroke-opacity="0.65" stroke-width="0.74"/>
<path d="M126.3 79.0L133.6 69.8" stroke="rgb(78,78,78)" stroke-opacity="0.42" stroke-width="0.93"/>
<path d="M119.3 64.9L127.6 57.5" stroke="rgb(179,179,179)" stroke-opacity="0.79" stroke-width="0.86"/>
<path d="M104.2 40.0L98.6 30.3" stroke="rgb(151,151,151)" stroke-opacity="0.59" stroke-width="0.58"/>
<path d="M115.3 56.0L119.3 51.4" stroke="rgb(83,83,83)" stroke-opacity="0.59" stroke-width="0.94"/>
<path d="M87.9 77.4L85.6 71.8" stroke="rgb(84,84,84)" stroke-opacity="0.52" stroke-width="1.04"/>
<path d="M101.2 68.9L95.9 61.2" stroke="rgb(67,67,67)" stroke-opacity="0.67" stroke-width="0.64"/>
<path d="M167.3 85.1L175.5 86.3" stroke="rgb(179,179,179)" stroke-opacity="0.60" stroke-width="0.75"/>
<path d="M101.8 32.2L106.5 22.6" stroke="rgb(142,142,142)" stroke-opacity="0.56" stroke-width="0.79"/>
<path d="M131.5 46.7L139.9 42.4" stroke="rgb(164,164,164)" stroke-opacity="0.85" stroke-width="0.96"/>
<path d="M94.5 79.3L92.5 73.8" stroke="rgb(162,162,162)" stroke-opacity="0.67" stroke-width="0.98"/>
<path d="M112.6 52.1L115.8 47.4" stroke="rgb(174,174,174)" stroke-opacity="0.83" stroke-width="0.91"/>
<path d="M105.2 46.1L110.9 36.5" stroke="rgb(71,71,71)" stroke-opacity="0.55" stroke-width="1.08"/>
<path d="M127.7 93.0L136.1 86.8" stroke="rgb(181,181,181)" stroke-opacity="0.79" stroke-width="0.96"/>
<path d="M112.0 39.7L117.2 33.7" stroke="rgb(233,233,233)" stroke-opacity="0.85" stroke-width="0.69"/>
<path d="M94.4 35.7L88.1 26.2" stroke="rgb(84,84,84)" stroke-opacity="0.56" stroke-width="0.58"/>
<path d="M107.5 58.8L102.5 50.3" stroke="rgb(66,66,66)" stroke-opacity="0.68" stroke-width="0.64"/>
<path d="M123.8 98.1L125.7 92.8" stroke="rgb(163,163,163)" stroke-opacity="0.67" stroke-width="0.67"/>
<path d="M116.1 29.1L121.1 21.5" stroke="rgb(139,139,139)" stroke-opacity="0.73" stroke-width="0.83"/>
<path d="M120.3 51.6L125.4 44.8" stroke="rgb(88,88,88)" stroke-opacity="0.47" stroke-width="0.95"/>
<path d="M115.7 26.5L122.6 20.0" stroke="rgb(169,169,169)" stroke-opacity="0.61" stroke-width="0.80"/>
<path d="M164.9 92.1L176.5 89.7" stroke="rgb(81,81,81)" stroke-opacity="0.65" stroke-width="1.00"/>
<path d="M94.0 77.5L88.9 69.5" stroke="rgb(77,77,77)" stroke-opacity="0.66" stroke-width="0.63"/>
<path d="M156.6 63.8L166.4 61.3" stroke="rgb(69,69,69)" stroke-opacity="0.67" stroke-width="0.80"/>
<path d="M96.0 75.7L91.3 68.9" stroke="rgb(171,171,171)" stroke-opacity="0.65" stroke-width="0.69"/>
<path d="M107.2 98.4L104.8 92.3" stroke="rgb(69,69,69)" stroke-opacity="0.74" stroke-width="0.69"/>
<path d="M96.7 66.8L92.2 58.4" stroke="rgb(171,171,171)" stroke-opacity="0.74" stroke-width="0.95"/>
<path d="M159.4 65.5L171.2 65.1" stroke="rgb(87,87,87)" stroke-opacity="0.58" stroke-width="1.02"/>
<path d="M128.8 80.0L139.4 72.7" stroke="rgb(65,65,65)" stroke-opacity="0.58" stroke-width="0.93"/>
<path d="M131.0 97.4L136.1 93.2" stroke="rgb(140,140,140)" stroke-opacity="0.55" stroke-width="0.98"/>
<path d="M93.6 44.9L88.9 36.3" stroke="rgb(154,154,154)" stroke-opacity="0.54" stroke-width="0.62"/>
<path d="M159.0 31.1L171.5 27.9" stroke="rgb(142,142,142)" stroke-opacity="0.82" stroke-width="1.03"/>
<path d="M103.8 83.0L97.9 74.3" stroke="rgb(65,65,65)" stroke-opacity="0.50" stroke-width="0.83"/>
<path d="M127.8 51.6L135.9 47.6" stroke="rgb(73,73,73)" stroke-opacity="0.44" stroke-width="0.85"/>
<path d="M152.6 31.7L159.6 31.0" stroke="rgb(163,163,163)" stroke-opacity="0.51" stroke-width="1.09"/>
<path d="M121.7 85.5L127.3 78.6" stroke="rgb(151,151,151)" stroke-opacity="0.56" stroke-width="0.85"/>
<path d="M109.0 79.8L113.9 68.8" stroke="rgb(179,179,179)" stroke-opacity="0.77" stroke-width="0.70"/>
<path d="M119.8 28.8L129.9 20.7" stroke="rgb(165,165,165)" stroke-opacity="0.81" stroke-width="0.99"/>
<path d="M90.9 40.3L87.6 32.8" stroke="rgb(145,145,145)" stroke-opacity="0.74" stroke-width="0.80"/>
<path d="M108.9 98.2L103.4 90.9" stroke="rgb(168,168,168)" stroke-opacity="0.58" stroke-width="1.04"/>
<path d="M133.5 28.0L141.4 24.3" stroke="rgb(234,234,234)" stroke-opacity="0.88" stroke-width="0.72"/>
<path d="M113.1 61.6L117.7 56.5" stroke="rgb(173,173,173)" stroke-opacity="0.52" stroke-width="0.63"/>
<path d="M141.3 44.7L147.9 41.9" stroke="rgb(243,243,243)" stroke-opacity="0.78" stroke-width="0.63"/>
<path d="M140.9 90.7L153.1 92.0" stroke="rgb(147,147,147)" stroke-opacity="0.77" stroke-width="0.90"/>
<path d="M136.1 52.8L146.7 47.3" stroke="rgb(83,83,83)" stroke-opacity="0.43" stroke-width="1.08"/>
<path d="M111.4 53.8L120.4 46.2" stroke="rgb(170,170,170)" stroke-opacity="0.75" stroke-width="0.73"/>
<path d="M143.0 72.6L151.9 73.7" stroke="rgb(87,87,87)" stroke-opacity="0.49" stroke-width="0.74"/>
<path d="M101.5 28.3L94.5 18.6" stroke="rgb(163,163,163)" stroke-opacity="0.64" stroke-width="0.97"/>
<path d="M163.6 67.0L170.6 66.6" stroke="rgb(231,231,231)" stroke-opacity="0.62" stroke-width="0.65"/>
<path d="M162.9 66.8L170.4 66.6" stroke="rgb(164,164,164)" stroke-opacity="0.62" stroke-width="0.98"/>
<path d="M118.9 91.9L128.1 83.8" stroke="rgb(151,151,151)" stroke-opacity="0.69" stroke-width="0.97"/>
<path d="M138.3 41.6L143.1 39.7" stroke="rgb(163,163,163)" stroke-opacity="0.57" stroke-width="0.88"/>
<path d="M155.0 71.2L167.7 71.6" stroke="rgb(215,215,215)" stroke-opacity="0.62" stroke-width="1.00"/>
<path d="M133.9 77.6L138.6 75.8" stroke="rgb(176,176,176)" stroke-opacity="0.81" stroke-width="0.90"/>
<path d="M161.7 40.4L171.3 37.1" stroke="rgb(178,178,178)" stroke-opacity="0.78" stroke-width="0.65"/>
<path d="M158.5 82.1L164.1 82.9" stroke="rgb(86,86,86)" stroke-opacity="0.60" stroke-width="0.88"/>
<path d="M105.4 61.1L111.7 54.0" stroke="rgb(63,63,63)" stroke-opacity="0.57" stroke-width="0.94"/>
<path d="M156.3 35.2L161.3 34.0" stroke="rgb(168,168,168)" stroke-opacity="0.77" stroke-width="0.60"/>
<path d="M152.6 56.2L161.4 52.9" stroke="rgb(81,81,81)" stroke-opacity="0.63" stroke-width="0.68"/>
<path d="M136.2 86.0L143.8 81.5" stroke="rgb(176,176,176)" stroke-opacity="0.61" stroke-width="0.97"/>
<path d="M165.1 58.2L177.3 55.4" stroke="rgb(135,135,135)" stroke-opacity="0.70" stroke-width="0.60"/>
<path d="M153.5 95.6L159.7 96.3" stroke="rgb(74,74,74)" stroke-opacity="0.70" stroke-width="0.60"/>
<path d="M90.3 37.4L87.0 28.5" stroke="rgb(173,173,173)" stroke-opacity="0.63" stroke-width="0.63"/>
<path d="M104.3 83.7L99.0 72.5" stroke="rgb(136,136,136)" stroke-opacity="0.62" stroke-width="0.94"/>
<path d="M120.2 91.4L129.1 83.0" stroke="rgb(148,148,148)" stroke-opacity="0.61" stroke-width="1.05"/>
<path d="M96.2 80.4L94.9 75.1" stroke="rgb(74,74,74)" stroke-opacity="0.67" stroke-width="0.74"/>
<path d="M103.6 55.5L108.5 46.5" stroke="rgb(62,62,62)" stroke-opacity="0.50" stroke-width="0.69"/>
<path d="M121.7 42.6L126.2 37.8" stroke="rgb(82,82,82)" stroke-opacity="0.51" stroke-width="1.03"/>
<path d="M124.8 100.3L134.4 92.3" stroke="rgb(86,86,86)" stroke-opacity="0.45" stroke-width="0.72"/>
<path d="M97.4 28.1L90.4 18.3" stroke="rgb(155,155,155)" stroke-opacity="0.74" stroke-width="0.88"/>
<path d="M121.0 70.1L130.3 62.4" stroke="rgb(184,184,184)" stroke-opacity="0.77" stroke-width="0.79"/>
<path d="M119.7 37.8L128.4 28.9" stroke="rgb(87,87,87)" stroke-opacity="0.44" stroke-width="1.09"/>
<path d="M88.1 93.8L86.0 88.4" stroke="rgb(178,178,178)" stroke-opacity="0.64" stroke-width="0.78"/>
<path d="M138.0 72.2L146.1 73.2" stroke="rgb(137,137,137)" stroke-opacity="0.70" stroke-width="0.66"/>
<path d="M136.2 25.6L145.3 22.5" stroke="rgb(85,85,85)" stroke-opacity="0.41" stroke-width="1.09"/>
<path d="M112.1 91.1L115.4 86.1" stroke="rgb(143,143,143)" stroke-opacity="0.68" stroke-width="0.55"/>
<path d="M109.3 68.7L102.1 57.9" stroke="rgb(166,166,166)" stroke-opacity="0.84" stroke-width="0.59"/>
<path d="M164.3 87.7L177.0 85.8" stroke="rgb(139,139,139)" stroke-opacity="0.60" stroke-width="0.65"/>
<path d="M106.5 31.2L111.9 24.9" stroke="rgb(233,233,233)" stroke-opacity="0.68" stroke-width="0.73"/>
<path d="M91.4 60.1L88.2 53.6" stroke="rgb(161,161,161)" stroke-opacity="0.84" stroke-width="1.03"/>
<path d="M142.6 55.0L154.6 50.6" stroke="rgb(159,159,159)" stroke-opacity="0.81" stroke-width="0.99"/>
<path d="M160.9 70.1L167.8 70.7" stroke="rgb(151,151,151)" stroke-opacity="0.74" stroke-width="0.95"/>
<path d="M167.4 85.0L177.4 84.3" stroke="rgb(180,180,180)" stroke-opacity="0.52" stroke-width="0.93"/>
<path d="M112.1 75.3L116.8 67.2" stroke="rgb(171,171,171)" stroke-opacity="0.50" stroke-width="0.96"/>
<path d="M157.5 62.8L163.4 59.4" stroke="rgb(85,85,85)" stroke-opacity="0.75" stroke-width="0.75"/>
<path d="M94.1 98.6L89.5 93.2" stroke="rgb(88,88,88)" stroke-opacity="0.53" stroke-width="0.90"/>
<path d="M128.6 43.3L138.3 35.9" stroke="rgb(181,181,181)" stroke-opacity="0.62" stroke-width="0.87"/>
<path d="M133.7 99.3L138.0 96.0" stroke="rgb(73,73,73)" stroke-opacity="0.61" stroke-width="0.84"/>
<path d="M152.7 41.3L161.3 40.2" stroke="rgb(88,88,88)" stroke-opacity="0.74" stroke-width="0.91"/>
<path d="M161.5 47.1L169.4 46.9" stroke="rgb(75,75,75)" stroke-opacity="0.45" stroke-width="0.63"/>
<path d="M106.2 34.8L109.9 26.4" stroke="rgb(140,140,140)" stroke-opacity="0.60" stroke-width="0.71"/>
<path d="M120.7 33.9L129.3 28.6" stroke="rgb(67,67,67)" stroke-opacity="0.70" stroke-width="0.63"/>
<path d="M141.8 52.1L149.0 48.6" stroke="rgb(159,159,159)" stroke-opacity="0.59" stroke-width="0.86"/>
<path d="M88.6 46.6L83.9 38.1" stroke="rgb(169,169,169)" stroke-opacity="0.60" stroke-width="0.73"/>
<path d="M109.2 90.9L105.2 79.7" stroke="rgb(162,162,162)" stroke-opacity="0.84" stroke-width="0.71"/>
<path d="M148.8 91.4L159.5 92.1" stroke="rgb(137,137,137)" stroke-opacity="0.75" stroke-width="0.71"/>
<path d="M118.9 74.3L124.5 68.5" stroke="rgb(249,249,249)" stroke-opacity="0.66" stroke-width="1.08"/>
<path d="M143.4 52.8L152.9 48.7" stroke="rgb(139,139,139)" stroke-opacity="0.53" stroke-width="0.80"/>
<path d="M116.0 57.4L124.9 50.4" stroke="rgb(171,171,171)" stroke-opacity="0.66" stroke-width="0.80"/>
<path d="M155.0 55.1L163.5 52.7" stroke="rgb(76,76,76)" stroke-opacity="0.56" stroke-width="0.62"/>
<path d="M147.2 24.9L156.2 22.4" stroke="rgb(71,71,71)" stroke-opacity="0.62" stroke-width="0.97"/>
<path d="M149.9 32.3L156.5 31.1" stroke="rgb(135,135,135)" stroke-opacity="0.54" stroke-width="0.60"/>
<path d="M146.4 65.6L157.1 64.7" stroke="rgb(138,138,138)" stroke-opacity="0.69" stroke-width="0.96"/>
<path d="M155.5 34.2L163.6 32.6" stroke="rgb(175,175,175)" stroke-opacity="0.55" stroke-width="0.73"/>
<path d="M128.2 25.1L134.4 21.6" stroke="rgb(151,151,151)" stroke-opacity="0.73" stroke-width="0.71"/>
<path d="M117.4 93.3L123.7 85.0" stroke="rgb(150,150,150)" stroke-opacity="0.80" stroke-width="0.99"/>
<path d="M156.2 43.2L165.3 41.1" stroke="rgb(164,164,164)" stroke-opacity="0.73" stroke-width="0.94"/>
<path d="M100.2 96.0L96.8 89.0" stroke="rgb(180,180,180)" stroke-opacity="0.69" stroke-width="0.58"/>
<path d="M111.9 66.2L115.2 59.3" stroke="rgb(185,185,185)" stroke-opacity="0.65" stroke-width="0.66"/>
<path d="M106.4 100.2L102.5 91.1" stroke="rgb(181,181,181)" stroke-opacity="0.66" stroke-width="1.03"/>
<path d="M94.1 60.5L88.3 50.2" stroke="rgb(173,173,173)" stroke-opacity="0.67" stroke-width="0.56"/>
<path d="M145.8 78.2L152.1 77.8" stroke="rgb(181,181,181)" stroke-opacity="0.74" stroke-width="0.71"/>
<path d="M105.6 88.8L103.5 82.5" stroke="rgb(141,141,141)" stroke-opacity="0.57" stroke-width="0.60"/>
<path d="M92.2 45.3L89.0 34.0" stroke="rgb(76,76,76)" stroke-opacity="0.67" stroke-width="0.64"/>
<path d="M92.1 78.5L90.2 71.4" stroke="rgb(172,172,172)" stroke-opacity="0.78" stroke-width="0.94"/>
<path d="M145.3 46.9L152.2 45.2" stroke="rgb(148,148,148)" stroke-opacity="0.55" stroke-width="0.99"/>
<path d="M166.4 52.7L176.5 51.7" stroke="rgb(169,169,169)" stroke-opacity="0.74" stroke-width="0.66"/>
<path d="M100.9 40.1L97.4 33.2" stroke="rgb(137,137,137)" stroke-opacity="0.79" stroke-width="0.62"/>
<path d="M162.9 97.0L170.2 97.8" stroke="rgb(183,183,183)" stroke-opacity="0.77" stroke-width="1.04"/>
<path d="M162.2 39.0L169.1 36.8" stroke="rgb(172,172,172)" stroke-opacity="0.69" stroke-width="0.60"/>
<path d="M99.4 46.4L97.3 39.9" stroke="rgb(63,63,63)" stroke-opacity="0.63" stroke-width="0.61"/>
<path d="M88.2 39.9L84.5 34.9" stroke="rgb(146,146,146)" stroke-opacity="0.62" stroke-width="0.80"/>
<path d="M109.2 81.8L106.3 75.0" stroke="rgb(170,170,170)" stroke-opacity="0.66" stroke-width="0.96"/>
<path d="M97.2 38.9L94.8 31.1" stroke="rgb(137,137,137)" stroke-opacity="0.68" stroke-width="0.60"/>
<path d="M139.0 34.7L146.0 30.8" stroke="rgb(67,67,67)" stroke-opacity="0.54" stroke-width="0.91"/>
<path d="M96.7 27.6L91.4 18.9" stroke="rgb(71,71,71)" stroke-opacity="0.46" stroke-width="0.60"/>
<path d="M160.0 32.8L165.4 30.5" stroke="rgb(145,145,145)" stroke-opacity="0.70" stroke-width="0.57"/>
<path d="M110.2 97.1L106.8 90.7" stroke="rgb(218,218,218)" stroke-opacity="0.87" stroke-width="0.95"/>
<path d="M130.4 42.2L135.0 39.4" stroke="rgb(84,84,84)" stroke-opacity="0.63" stroke-width="0.93"/>
<path d="M107.5 81.8L104.8 76.2" stroke="rgb(136,136,136)" stroke-opacity="0.65" stroke-width="0.89"/>
<path d="M96.9 68.7L94.5 62.4" stroke="rgb(184,184,184)" stroke-opacity="0.77" stroke-width="0.94"/>
<path d="M93.4 45.9L89.9 36.7" stroke="rgb(63,63,63)" stroke-opacity="0.49" stroke-width="0.98"/>
<path d="M102.9 50.2L99.9 41.0" stroke="rgb(155,155,155)" stroke-opacity="0.83" stroke-width="0.78"/>
<path d="M118.9 31.7L124.3 27.3" stroke="rgb(83,83,83)" stroke-opacity="0.47" stroke-width="0.99"/>
<path d="M147.9 38.6L158.5 37.7" stroke="rgb(135,135,135)" stroke-opacity="0.78" stroke-width="0.81"/>
<path d="M125.1 85.5L133.8 76.9" stroke="rgb(82,82,82)" stroke-opacity="0.43" stroke-width="1.03"/>
<path d="M94.4 55.4L86.8 45.1" stroke="rgb(241,241,241)" stroke-opacity="0.80" stroke-width="0.96"/>
<path d="M100.4 90.6L95.5 79.1" stroke="rgb(85,85,85)" stroke-opacity="0.59" stroke-width="0.98"/>
<path d="M139.8 38.1L150.9 32.3" stroke="rgb(182,182,182)" stroke-opacity="0.84" stroke-width="0.84"/>
<path d="M162.2 32.5L174.8 30.6" stroke="rgb(70,70,70)" stroke-opacity="0.70" stroke-width="1.02"/>
<path d="M110.2 70.5L103.9 63.2" stroke="rgb(84,84,84)" stroke-opacity="0.42" stroke-width="0.91"/>
<path d="M117.3 74.3L123.8 65.2" stroke="rgb(159,159,159)" stroke-opacity="0.64" stroke-width="0.60"/>
<path d="M137.2 86.2L148.8 84.7" stroke="rgb(62,62,62)" stroke-opacity="0.52" stroke-width="0.88"/>
<path d="M164.6 88.1L173.3 89.0" stroke="rgb(154,154,154)" stroke-opacity="0.66" stroke-width="0.73"/>
<path d="M106.2 52.7L103.4 46.0" stroke="rgb(152,152,152)" stroke-opacity="0.57" stroke-width="1.04"/>
<path d="M119.7 66.0L123.6 60.3" stroke="rgb(175,175,175)" stroke-opacity="0.51" stroke-width="1.00"/>
<path d="M103.5 46.4L101.0 40.1" stroke="rgb(81,81,81)" stroke-opacity="0.75" stroke-width="1.08"/>
<path d="M109.8 51.7L116.3 41.7" stroke="rgb(81,81,81)" stroke-opacity="0.48" stroke-width="1.01"/>
<path d="M102.8 68.1L97.8 56.6" stroke="rgb(177,177,177)" stroke-opacity="0.59" stroke-width="0.74"/>
<path d="M97.8 69.5L92.2 59.0" stroke="rgb(159,159,159)" stroke-opacity="0.55" stroke-width="0.96"/>
<path d="M107.0 57.4L109.5 50.7" stroke="rgb(154,154,154)" stroke-opacity="0.73" stroke-width="0.90"/>
<path d="M115.6 66.0L122.2 57.9" stroke="rgb(77,77,77)" stroke-opacity="0.60" stroke-width="0.93"/>
<path d="M89.5 92.0L86.0 84.7" stroke="rgb(167,167,167)" stroke-opacity="0.81" stroke-width="0.95"/>
<path d="M147.8 26.7L155.1 24.4" stroke="rgb(152,152,152)" stroke-opacity="0.55" stroke-width="0.87"/>
<path d="M132.4 29.5L140.4 23.2" stroke="rgb(183,183,183)" stroke-opacity="0.58" stroke-width="0.98"/>
<path d="M89.9 67.8L87.0 60.0" stroke="rgb(178,178,178)" stroke-opacity="0.72" stroke-width="0.82"/>
<path d="M165.2 50.6L176.8 49.1" stroke="rgb(138,138,138)" stroke-opacity="0.78" stroke-width="0.74"/>
<path d="M101.5 66.6L95.2 56.4" stroke="rgb(182,182,182)" stroke-opacity="0.68" stroke-width="0.92"/>
<path d="M161.2 66.7L169.1 66.9" stroke="rgb(70,70,70)" stroke-opacity="0.52" stroke-width="1.07"/>
<path d="M105.5 50.6L101.2 43.2" stroke="rgb(151,151,151)" stroke-opacity="0.63" stroke-width="0.73"/>
<path d="M150.2 58.2L160.2 58.3" stroke="rgb(161,161,161)" stroke-opacity="0.72" stroke-width="0.98"/>
<path d="M109.5 38.0L117.7 30.5" stroke="rgb(170,170,170)" stroke-opacity="0.80" stroke-width="0.78"/>
<path d="M95.7 57.2L90.0 47.2" stroke="rgb(65,65,65)" stroke-opacity="0.50" stroke-width="0.97"/>
<path d="M92.5 88.6L87.1 80.8" stroke="rgb(158,158,158)" stroke-opacity="0.59" stroke-width="0.68"/>
<path d="M94.2 67.6L90.3 60.3" stroke="rgb(65,65,65)" stroke-opacity="0.77" stroke-width="0.64"/>
<path d="M104.9 81.3L98.2 72.7" stroke="rgb(160,160,160)" stroke-opacity="0.64" stroke-width="1.07"/>
<path d="M147.2 50.1L154.3 46.8" stroke="rgb(144,144,144)" stroke-opacity="0.69" stroke-width="0.84"/>
<path d="M141.4 90.0L147.5 90.6" stroke="rgb(139,139,139)" stroke-opacity="0.82" stroke-width="0.59"/>
<path d="M88.0 68.8L84.9 62.8" stroke="rgb(87,87,87)" stroke-opacity="0.74" stroke-width="0.98"/>
<path d="M154.0 34.9L164.3 33.6" stroke="rgb(78,78,78)" stroke-opacity="0.45" stroke-width="0.71"/>
<path d="M90.5 98.8L87.8 92.1" stroke="rgb(84,84,84)" stroke-opacity="0.55" stroke-width="1.04"/>
<path d="M143.2 81.0L153.0 80.2" stroke="rgb(173,173,173)" stroke-opacity="0.57" stroke-width="0.67"/>
<path d="M95.4 77.3L93.3 69.7" stroke="rgb(64,64,64)" stroke-opacity="0.45" stroke-width="1.07"/>
<path d="M108.0 62.0L102.4 52.3" stroke="rgb(167,167,167)" stroke-opacity="0.52" stroke-width="0.80"/>
<path d="M131.7 84.4L137.2 82.2" stroke="rgb(175,175,175)" stroke-opacity="0.83" stroke-width="1.08"/>
<path d="M128.3 42.6L136.4 37.7" stroke="rgb(71,71,71)" stroke-opacity="0.74" stroke-width="0.99"/>
<path d="M129.1 27.6L136.7 22.7" stroke="rgb(139,139,139)" stroke-opacity="0.83" stroke-width="0.70"/>
<path d="M96.0 34.8L92.0 27.8" stroke="rgb(75,75,75)" stroke-opacity="0.49" stroke-width="1.03"/>
<path d="M166.4 82.6L179.3 83.5" stroke="rgb(165,165,165)" stroke-opacity="0.70" stroke-width="0.79"/>
<path d="M165.6 89.1L175.5 88.5" stroke="rgb(174,174,174)" stroke-opacity="0.57" stroke-width="0.77"/>
<path d="M108.5 41.0L113.1 33.9" stroke="rgb(180,180,180)" stroke-opacity="0.76" stroke-width="0.98"/>
<path d="M107.2 84.1L100.2 74.7" stroke="rgb(185,185,185)" stroke-opacity="0.83" stroke-width="1.06"/>
<path d="M146.5 76.6L151.6 76.8" stroke="rgb(85,85,85)" stroke-opacity="0.70" stroke-width="0.85"/>
<path d="M130.7 72.3L138.8 67.3" stroke="rgb(157,157,157)" stroke-opacity="0.61" stroke-width="0.57"/>
<path d="M102.8 53.6L100.1 45.4" stroke="rgb(141,141,141)" stroke-opacity="0.80" stroke-width="0.75"/>
<path d="M160.4 60.2L165.8 58.4" stroke="rgb(155,155,155)" stroke-opacity="0.67" stroke-width="1.00"/>
<path d="M99.3 33.8L95.4 28.3" stroke="rgb(136,136,136)" stroke-opacity="0.83" stroke-width="0.66"/>
<path d="M112.8 87.8L108.0 79.9" stroke="rgb(85,85,85)" stroke-opacity="0.55" stroke-width="1.00"/>
<path d="M154.6 33.7L164.2 32.1" stroke="rgb(135,135,135)" stroke-opacity="0.78" stroke-width="1.09"/>
<path d="M95.2 84.2L92.1 78.3" stroke="rgb(214,214,214)" stroke-opacity="0.86" stroke-width="0.74"/>
<path d="M132.7 58.7L137.1 56.1" stroke="rgb(157,157,157)" stroke-opacity="0.63" stroke-width="0.61"/>
<path d="M135.2 34.6L140.0 30.1" stroke="rgb(172,172,172)" stroke-opacity="0.82" stroke-width="0.93"/>
<path d="M159.9 81.1L171.5 78.6" stroke="rgb(176,176,176)" stroke-opacity="0.74" stroke-width="0.94"/>
<path d="M109.9 75.9L104.2 67.1" stroke="rgb(144,144,144)" stroke-opacity="0.54" stroke-width="0.82"/>
<path d="M117.7 77.1L121.1 73.4" stroke="rgb(224,224,224)" stroke-opacity="0.79" stroke-width="0.96"/>
<path d="M93.8 34.7L85.3 25.1" stroke="rgb(63,63,63)" stroke-opacity="0.59" stroke-width="0.77"/>
<path d="M163.4 94.8L172.8 94.5" stroke="rgb(236,236,236)" stroke-opacity="0.68" stroke-width="0.63"/>
<path d="M89.2 82.1L86.3 77.0" stroke="rgb(84,84,84)" stroke-opacity="0.44" stroke-width="0.63"/>
<path d="M127.4 73.0L137.1 64.9" stroke="rgb(135,135,135)" stroke-opacity="0.53" stroke-width="0.57"/>
<path d="M138.0 30.6L147.2 28.0" stroke="rgb(87,87,87)" stroke-opacity="0.72" stroke-width="0.59"/>
<path d="M92.2 65.9L89.7 61.5" stroke="rgb(62,62,62)" stroke-opacity="0.47" stroke-width="0.83"/>
<path d="M153.8 39.2L164.3 37.8" stroke="rgb(83,83,83)" stroke-opacity="0.57" stroke-width="0.61"/>
<path d="M165.9 64.9L176.4 62.6" stroke="rgb(65,65,65)" stroke-opacity="0.44" stroke-width="0.70"/>
<path d="M110.4 48.6L115.8 41.5" stroke="rgb(231,231,231)" stroke-opacity="0.83" stroke-width="0.55"/>
<path d="M95.1 35.3L90.3 27.5" stroke="rgb(161,161,161)" stroke-opacity="0.82" stroke-width="0.87"/>
<path d="M107.8 84.1L101.3 75.2" stroke="rgb(136,136,136)" stroke-opacity="0.79" stroke-width="0.94"/>
<path d="M91.3 79.3L86.4 68.3" stroke="rgb(153,153,153)" stroke-opacity="0.65" stroke-width="0.94"/>
<path d="M106.7 49.0L109.7 41.8" stroke="rgb(141,141,141)" stroke-opacity="0.56" stroke-width="0.64"/>
<path d="M163.2 73.1L174.0 70.9" stroke="rgb(72,72,72)" stroke-opacity="0.51" stroke-width="0.69"/>
<path d="M119.5 26.8L124.6 22.2" stroke="rgb(88,88,88)" stroke-opacity="0.53" stroke-width="0.97"/>
<path d="M150.7 89.4L156.5 89.5" stroke="rgb(72,72,72)" stroke-opacity="0.57" stroke-width="0.74"/>
<path d="M94.3 35.5L89.2 28.5" stroke="rgb(138,138,138)" stroke-opacity="0.73" stroke-width="0.85"/>
<path d="M161.4 53.7L174.2 53.1" stroke="rgb(148,148,148)" stroke-opacity="0.58" stroke-width="0.97"/>
<path d="M159.1 76.9L167.4 75.8" stroke="rgb(146,146,146)" stroke-opacity="0.71" stroke-width="0.89"/>
<path d="M102.6 97.2L98.8 90.4" stroke="rgb(64,64,64)" stroke-opacity="0.68" stroke-width="0.67"/>
<path d="M110.6 99.8L106.9 90.3" stroke="rgb(214,214,214)" stroke-opacity="0.78" stroke-width="0.93"/>
<path d="M110.2 30.8L115.1 24.6" stroke="rgb(142,142,142)" stroke-opacity="0.75" stroke-width="0.91"/>
<path d="M125.8 92.4L135.4 84.7" stroke="rgb(141,141,141)" stroke-opacity="0.59" stroke-width="0.77"/>
<path d="M140.9 36.3L152.7 35.4" stroke="rgb(155,155,155)" stroke-opacity="0.79" stroke-width="0.57"/>
<path d="M152.6 41.3L164.0 38.3" stroke="rgb(83,83,83)" stroke-opacity="0.53" stroke-width="0.89"/>
<path d="M154.6 28.8L164.9 27.9" stroke="rgb(151,151,151)" stroke-opacity="0.56" stroke-width="0.63"/>
<path d="M96.1 100.2L93.2 92.7" stroke="rgb(80,80,80)" stroke-opacity="0.63" stroke-width="0.58"/>
<path d="M109.0 45.6L114.9 40.4" stroke="rgb(146,146,146)" stroke-opacity="0.55" stroke-width="0.98"/>
<path d="M106.5 54.6L109.7 46.0" stroke="rgb(150,150,150)" stroke-opacity="0.82" stroke-width="0.64"/>
<path d="M146.4 91.8L158.4 93.4" stroke="rgb(73,73,73)" stroke-opacity="0.50" stroke-width="1.04"/>
<path d="M107.4 25.8L110.8 21.1" stroke="rgb(158,158,158)" stroke-opacity="0.58" stroke-width="0.57"/>
<path d="M122.6 33.9L126.1 29.3" stroke="rgb(165,165,165)" stroke-opacity="0.82" stroke-width="1.05"/>
<path d="M120.8 29.6L125.7 25.3" stroke="rgb(163,163,163)" stroke-opacity="0.66" stroke-width="1.07"/>
<path d="M130.3 30.6L138.6 25.9" stroke="rgb(74,74,74)" stroke-opacity="0.44" stroke-width="1.07"/>
<path d="M129.0 42.1L134.8 39.5" stroke="rgb(68,68,68)" stroke-opacity="0.44" stroke-width="0.81"/>
<path d="M122.8 97.6L131.1 89.7" stroke="rgb(65,65,65)" stroke-opacity="0.48" stroke-width="0.91"/>
<path d="M113.7 36.9L121.6 26.8" stroke="rgb(146,146,146)" stroke-opacity="0.68" stroke-width="0.90"/>
<path d="M154.2 90.8L159.4 90.0" stroke="rgb(86,86,86)" stroke-opacity="0.60" stroke-width="0.88"/>
<path d="M137.9 36.7L147.7 30.8" stroke="rgb(85,85,85)" stroke-opacity="0.42" stroke-width="1.02"/>
<path d="M139.0 71.8L147.6 71.4" stroke="rgb(76,76,76)" stroke-opacity="0.49" stroke-width="0.57"/>
<path d="M122.0 35.7L126.8 31.2" stroke="rgb(80,80,80)" stroke-opacity="0.48" stroke-width="0.59"/>
<path d="M89.9 37.6L86.9 32.9" stroke="rgb(182,182,182)" stroke-opacity="0.67" stroke-width="1.10"/>
<path d="M134.8 41.1L145.7 37.1" stroke="rgb(185,185,185)" stroke-opacity="0.66" stroke-width="0.67"/>
<path d="M164.9 48.6L174.7 45.4" stroke="rgb(158,158,158)" stroke-opacity="0.77" stroke-width="0.68"/>
<path d="M153.4 35.6L164.7 33.4" stroke="rgb(240,240,240)" stroke-opacity="0.77" stroke-width="0.94"/>
<path d="M99.0 43.9L97.4 37.9" stroke="rgb(168,168,168)" stroke-opacity="0.55" stroke-width="0.73"/>
<path d="M147.5 35.6L155.9 35.3" stroke="rgb(163,163,163)" stroke-opacity="0.78" stroke-width="0.69"/>
<path d="M130.0 42.2L141.6 37.0" stroke="rgb(65,65,65)" stroke-opacity="0.42" stroke-width="1.05"/>
<path d="M96.4 27.7L94.1 20.7" stroke="rgb(146,146,146)" stroke-opacity="0.80" stroke-width="0.78"/>
<path d="M128.5 88.9L136.0 83.9" stroke="rgb(150,150,150)" stroke-opacity="0.67" stroke-width="0.84"/>
<path d="M141.4 52.8L149.3 48.2" stroke="rgb(237,237,237)" stroke-opacity="0.62" stroke-width="1.04"/>
<path d="M132.9 38.3L138.7 34.6" stroke="rgb(168,168,168)" stroke-opacity="0.59" stroke-width="1.00"/>
<path d="M142.4 29.2L152.0 25.1" stroke="rgb(155,155,155)" stroke-opacity="0.78" stroke-width="0.56"/>
<path d="M125.2 75.8L129.9 71.4" stroke="rgb(87,87,87)" stroke-opacity="0.79" stroke-width="1.09"/>
<path d="M96.8 99.2L91.1 91.8" stroke="rgb(143,143,143)" stroke-opacity="0.82" stroke-width="0.68"/>
<path d="M147.4 50.9L153.0 48.7" stroke="rgb(148,148,148)" stroke-opacity="0.81" stroke-width="0.61"/>
<path d="M127.3 92.8L133.8 85.3" stroke="rgb(77,77,77)" stroke-opacity="0.63" stroke-width="1.07"/>
<path d="M133.7 51.2L139.1 47.8" stroke="rgb(136,136,136)" stroke-opacity="0.74" stroke-width="0.98"/>
<path d="M117.4 35.7L123.5 27.7" stroke="rgb(170,170,170)" stroke-opacity="0.72" stroke-width="0.90"/>
<path d="M143.8 95.1L151.2 95.3" stroke="rgb(139,139,139)" stroke-opacity="0.71" stroke-width="1.02"/>
<path d="M159.0 66.9L165.6 67.0" stroke="rgb(169,169,169)" stroke-opacity="0.64" stroke-width="0.86"/>
<path d="M90.3 85.7L87.2 79.5" stroke="rgb(146,146,146)" stroke-opacity="0.59" stroke-width="0.94"/>
<path d="M169.3 25.3L174.9 23.4" stroke="rgb(68,68,68)" stroke-opacity="0.46" stroke-width="0.73"/>
<path d="M129.0 49.2L134.2 44.5" stroke="rgb(140,140,140)" stroke-opacity="0.59" stroke-width="0.70"/>
<path d="M94.3 32.7L89.1 21.0" stroke="rgb(181,181,181)" stroke-opacity="0.62" stroke-width="0.83"/>
<path d="M100.0 73.5L97.0 62.9" stroke="rgb(75,75,75)" stroke-opacity="0.55" stroke-width="0.94"/>
<path d="M108.9 87.5L103.4 77.5" stroke="rgb(172,172,172)" stroke-opacity="0.55" stroke-width="0.99"/>
<path d="M121.0 61.6L130.1 54.3" stroke="rgb(162,162,162)" stroke-opacity="0.55" stroke-width="0.66"/>
<path d="M132.9 34.1L140.8 27.9" stroke="rgb(151,151,151)" stroke-opacity="0.68" stroke-width="0.84"/>
<path d="M112.2 30.7L118.0 23.7" stroke="rgb(180,180,180)" stroke-opacity="0.74" stroke-width="0.89"/>
<path d="M161.0 39.0L168.3 37.4" stroke="rgb(70,70,70)" stroke-opacity="0.45" stroke-width="0.58"/>
<path d="M122.6 51.9L130.3 44.6" stroke="rgb(74,74,74)" stroke-opacity="0.53" stroke-width="0.95"/>
<path d="M92.8 70.7L89.3 66.2" stroke="rgb(167,167,167)" stroke-opacity="0.58" stroke-width="0.65"/>
<path d="M135.6 43.1L146.3 39.4" stroke="rgb(73,73,73)" stroke-opacity="0.67" stroke-width="0.81"/>
<path d="M110.0 32.5L116.4 24.5" stroke="rgb(75,75,75)" stroke-opacity="0.59" stroke-width="0.69"/>
<path d="M139.5 41.7L149.2 37.3" stroke="rgb(73,73,73)" stroke-opacity="0.61" stroke-width="0.98"/>
<path d="M146.6 46.9L151.9 46.0" stroke="rgb(64,64,64)" stroke-opacity="0.65" stroke-width="0.70"/>
<path d="M91.3 100.2L87.6 92.3" stroke="rgb(71,71,71)" stroke-opacity="0.66" stroke-width="1.02"/>
<path d="M139.5 50.3L147.8 46.5" stroke="rgb(179,179,179)" stroke-opacity="0.53" stroke-width="1.08"/>
<path d="M92.0 47.0L89.3 41.9" stroke="rgb(145,145,145)" stroke-opacity="0.79" stroke-width="0.88"/>
<path d="M118.9 43.9L124.2 37.8" stroke="rgb(84,84,84)" stroke-opacity="0.54" stroke-width="0.62"/>
<path d="M109.6 100.6L105.1 90.6" stroke="rgb(74,74,74)" stroke-opacity="0.59" stroke-width="1.08"/>
<path d="M134.8 46.3L142.7 42.7" stroke="rgb(85,85,85)" stroke-opacity="0.71" stroke-width="0.96"/>
<path d="M160.2 60.2L171.5 59.1" stroke="rgb(167,167,167)" stroke-opacity="0.66" stroke-width="1.09"/>
<path d="M101.2 90.0L97.0 83.7" stroke="rgb(182,182,182)" stroke-opacity="0.80" stroke-width="0.93"/>
<path d="M139.9 28.2L147.3 26.0" stroke="rgb(70,70,70)" stroke-opacity="0.64" stroke-width="1.04"/>
<path d="M163.3 48.7L174.8 46.1" stroke="rgb(70,70,70)" stroke-opacity="0.78" stroke-width="0.72"/>
<path d="M137.7 53.7L142.2 51.1" stroke="rgb(86,86,86)" stroke-opacity="0.65" stroke-width="1.04"/>
<path d="M145.8 40.9L158.1 41.5" stroke="rgb(85,85,85)" stroke-opacity="0.47" stroke-width="0.63"/>
<path d="M111.1 63.9L114.7 57.4" stroke="rgb(180,180,180)" stroke-opacity="0.62" stroke-width="1.00"/>
<path d="M112.6 90.6L119.9 81.4" stroke="rgb(66,66,66)" stroke-opacity="0.74" stroke-width="1.08"/>
<path d="M156.3 63.5L168.0 63.5" stroke="rgb(72,72,72)" stroke-opacity="0.59" stroke-width="0.80"/>
<path d="M146.0 86.3L156.7 84.7" stroke="rgb(139,139,139)" stroke-opacity="0.54" stroke-width="0.73"/>
<path d="M89.7 84.9L87.2 80.0" stroke="rgb(68,68,68)" stroke-opacity="0.74" stroke-width="0.90"/>
<path d="M110.9 61.8L115.6 55.3" stroke="rgb(80,80,80)" stroke-opacity="0.59" stroke-width="1.04"/>
<path d="M147.1 46.7L152.9 45.7" stroke="rgb(243,243,243)" stroke-opacity="0.62" stroke-width="0.80"/>
<path d="M89.2 97.2L85.3 91.6" stroke="rgb(169,169,169)" stroke-opacity="0.63" stroke-width="1.08"/>
<path d="M142.1 33.7L151.4 30.8" stroke="rgb(180,180,180)" stroke-opacity="0.55" stroke-width="1.10"/>
<path d="M104.4 48.7L100.0 40.7" stroke="rgb(65,65,65)" stroke-opacity="0.49" stroke-width="0.96"/>
<path d="M151.7 39.1L160.2 39.4" stroke="rgb(180,180,180)" stroke-opacity="0.53" stroke-width="0.78"/>
<path d="M113.7 101.5L115.6 92.6" stroke="rgb(77,77,77)" stroke-opacity="0.62" stroke-width="0.83"/>
<path d="M139.7 32.9L149.0 34.3" stroke="rgb(67,67,67)" stroke-opacity="0.41" stroke-width="0.91"/>
<path d="M158.3 33.2L167.1 29.5" stroke="rgb(138,138,138)" stroke-opacity="0.57" stroke-width="0.56"/>
<path d="M125.8 92.1L134.0 88.1" stroke="rgb(79,79,79)" stroke-opacity="0.49" stroke-width="0.63"/>
<path d="M122.5 27.6L126.2 22.8" stroke="rgb(81,81,81)" stroke-opacity="0.51" stroke-width="0.78"/>
<path d="M127.7 60.2L134.0 55.6" stroke="rgb(85,85,85)" stroke-opacity="0.71" stroke-width="0.85"/>
<path d="M108.0 87.4L104.8 81.3" stroke="rgb(147,147,147)" stroke-opacity="0.84" stroke-width="0.95"/>
<path d="M98.8 62.4L92.7 52.5" stroke="rgb(167,167,167)" stroke-opacity="0.52" stroke-width="1.07"/>
<path d="M122.7 31.3L126.7 27.4" stroke="rgb(83,83,83)" stroke-opacity="0.57" stroke-width="0.73"/>
<path d="M104.2 43.5L98.1 34.7" stroke="rgb(69,69,69)" stroke-opacity="0.46" stroke-width="0.78"/>
<path d="M137.2 47.1L142.8 44.1" stroke="rgb(140,140,140)" stroke-opacity="0.55" stroke-width="0.87"/>
<path d="M100.6 49.4L93.5 40.7" stroke="rgb(240,240,240)" stroke-opacity="0.88" stroke-width="0.81"/>
<path d="M104.5 70.0L102.3 64.3" stroke="rgb(139,139,139)" stroke-opacity="0.62" stroke-width="0.76"/>
<path d="M94.8 35.1L89.7 25.7" stroke="rgb(82,82,82)" stroke-opacity="0.46" stroke-width="1.03"/>
<path d="M131.2 26.8L140.8 19.9" stroke="rgb(73,73,73)" stroke-opacity="0.60" stroke-width="0.94"/>
<path d="M140.1 94.6L150.3 93.7" stroke="rgb(62,62,62)" stroke-opacity="0.78" stroke-width="0.63"/>
<path d="M115.1 91.4L121.0 81.8" stroke="rgb(224,224,224)" stroke-opacity="0.70" stroke-width="1.07"/>
<path d="M128.8 56.2L139.2 49.8" stroke="rgb(62,62,62)" stroke-opacity="0.65" stroke-width="0.99"/>
<path d="M121.0 46.4L128.1 40.5" stroke="rgb(170,170,170)" stroke-opacity="0.69" stroke-width="1.06"/>
<path d="M137.5 60.9L146.2 56.2" stroke="rgb(70,70,70)" stroke-opacity="0.41" stroke-width="0.99"/>
<path d="M93.9 88.2L90.2 78.9" stroke="rgb(156,156,156)" stroke-opacity="0.60" stroke-width="0.82"/>
<path d="M162.5 51.9L173.3 50.4" stroke="rgb(154,154,154)" stroke-opacity="0.58" stroke-width="0.58"/>
<path d="M111.5 82.6L106.8 72.9" stroke="rgb(66,66,66)" stroke-opacity="0.62" stroke-width="1.06"/>
<path d="M96.9 96.7L91.1 87.4" stroke="rgb(74,74,74)" stroke-opacity="0.57" stroke-width="0.90"/>
<path d="M145.0 37.1L150.8 35.5" stroke="rgb(140,140,140)" stroke-opacity="0.52" stroke-width="0.62"/>
<path d="M89.7 78.6L86.5 73.2" stroke="rgb(173,173,173)" stroke-opacity="0.63" stroke-width="1.07"/>
<path d="M101.2 37.4L105.6 26.4" stroke="rgb(161,161,161)" stroke-opacity="0.59" stroke-width="0.68"/>
<path d="M167.8 97.5L174.2 97.1" stroke="rgb(157,157,157)" stroke-opacity="0.72" stroke-width="0.91"/>
<path d="M120.9 74.0L129.0 64.9" stroke="rgb(79,79,79)" stroke-opacity="0.72" stroke-width="0.87"/>
<path d="M122.9 92.0L128.1 85.7" stroke="rgb(63,63,63)" stroke-opacity="0.77" stroke-width="0.86"/>
<path d="M100.7 39.4L96.5 32.6" stroke="rgb(62,62,62)" stroke-opacity="0.60" stroke-width="1.06"/>
<path d="M141.9 93.0L152.6 93.3" stroke="rgb(159,159,159)" stroke-opacity="0.75" stroke-width="0.77"/>
<path d="M163.6 95.2L175.9 93.6" stroke="rgb(72,72,72)" stroke-opacity="0.76" stroke-width="0.65"/>
<path d="M170.3 39.5L175.0 37.9" stroke="rgb(230,230,230)" stroke-opacity="0.70" stroke-width="0.97"/>
<path d="M108.2 71.6L109.9 65.6" stroke="rgb(77,77,77)" stroke-opacity="0.78" stroke-width="1.02"/>
<path d="M168.1 60.4L176.4 59.0" stroke="rgb(161,161,161)" stroke-opacity="0.82" stroke-width="0.87"/>
<path d="M121.6 94.9L125.2 90.5" stroke="rgb(65,65,65)" stroke-opacity="0.55" stroke-width="1.03"/>
<path d="M136.3 56.4L141.6 54.6" stroke="rgb(158,158,158)" stroke-opacity="0.53" stroke-width="0.82"/>
<path d="M144.4 41.1L153.6 36.8" stroke="rgb(158,158,158)" stroke-opacity="0.57" stroke-width="0.83"/>
<path d="M125.7 65.4L133.8 59.3" stroke="rgb(176,176,176)" stroke-opacity="0.80" stroke-width="0.77"/>
<path d="M166.1 59.4L171.6 57.2" stroke="rgb(66,66,66)" stroke-opacity="0.72" stroke-width="0.71"/>
<path d="M135.2 89.6L141.9 85.6" stroke="rgb(69,69,69)" stroke-opacity="0.50" stroke-width="0.83"/>
<path d="M123.4 27.2L126.4 22.4" stroke="rgb(63,63,63)" stroke-opacity="0.49" stroke-width="0.88"/>
<path d="M157.7 30.5L167.1 27.4" stroke="rgb(82,82,82)" stroke-opacity="0.73" stroke-width="0.62"/>
<path d="M103.4 64.0L101.4 56.6" stroke="rgb(149,149,149)" stroke-opacity="0.67" stroke-width="0.98"/>
<path d="M110.1 95.6L105.8 86.7" stroke="rgb(86,86,86)" stroke-opacity="0.43" stroke-width="0.76"/>
<path d="M137.3 94.6L143.8 96.0" stroke="rgb(165,165,165)" stroke-opacity="0.78" stroke-width="0.93"/>
<path d="M145.3 43.1L156.7 37.4" stroke="rgb(67,67,67)" stroke-opacity="0.61" stroke-width="0.62"/>
<path d="M110.8 94.8L117.0 84.1" stroke="rgb(77,77,77)" stroke-opacity="0.60" stroke-width="0.70"/>
<path d="M116.2 66.8L120.2 61.9" stroke="rgb(73,73,73)" stroke-opacity="0.55" stroke-width="0.61"/>
<path d="M167.2 61.5L174.0 58.9" stroke="rgb(171,171,171)" stroke-opacity="0.69" stroke-width="0.72"/>
<path d="M90.7 42.8L86.7 33.6" stroke="rgb(233,233,233)" stroke-opacity="0.74" stroke-width="1.06"/>
<path d="M105.5 99.3L101.3 89.9" stroke="rgb(147,147,147)" stroke-opacity="0.71" stroke-width="0.72"/>
<path d="M168.0 41.7L173.0 40.7" stroke="rgb(223,223,223)" stroke-opacity="0.75" stroke-width="0.91"/>
<path d="M148.9 41.4L154.6 39.9" stroke="rgb(141,141,141)" stroke-opacity="0.85" stroke-width="0.92"/>
<path d="M142.0 24.1L154.5 22.0" stroke="rgb(171,171,171)" stroke-opacity="0.74" stroke-width="0.83"/>
<path d="M113.9 79.7L119.4 72.3" stroke="rgb(171,171,171)" stroke-opacity="0.57" stroke-width="0.65"/>
<path d="M152.7 31.6L164.5 29.5" stroke="rgb(155,155,155)" stroke-opacity="0.74" stroke-width="0.76"/>
<path d="M167.9 26.4L177.2 23.4" stroke="rgb(75,75,75)" stroke-opacity="0.44" stroke-width="0.96"/>
<path d="M106.9 39.6L112.5 28.3" stroke="rgb(75,75,75)" stroke-opacity="0.65" stroke-width="0.91"/>
<path d="M101.9 81.6L98.6 72.8" stroke="rgb(158,158,158)" stroke-opacity="0.59" stroke-width="0.63"/>
<path d="M101.9 36.5L98.0 31.6" stroke="rgb(171,171,171)" stroke-opacity="0.53" stroke-width="0.82"/>
<path d="M123.0 83.1L130.0 74.9" stroke="rgb(143,143,143)" stroke-opacity="0.58" stroke-width="0.97"/>
<path d="M109.3 88.4L105.2 80.6" stroke="rgb(156,156,156)" stroke-opacity="0.67" stroke-width="0.57"/>
<path d="M168.4 97.1L173.8 97.2" stroke="rgb(69,69,69)" stroke-opacity="0.77" stroke-width="0.88"/>
<path d="M100.6 30.6L103.3 25.6" stroke="rgb(75,75,75)" stroke-opacity="0.70" stroke-width="0.59"/>
<path d="M148.8 57.1L159.2 55.5" stroke="rgb(162,162,162)" stroke-opacity="0.61" stroke-width="1.05"/>
<path d="M144.8 55.9L150.5 54.1" stroke="rgb(82,82,82)" stroke-opacity="0.70" stroke-width="1.00"/>
<path d="M152.3 44.7L157.6 43.7" stroke="rgb(168,168,168)" stroke-opacity="0.76" stroke-width="0.94"/>
<path d="M126.7 38.8L134.6 32.2" stroke="rgb(164,164,164)" stroke-opacity="0.50" stroke-width="0.67"/>
<path d="M119.1 40.0L122.6 35.5" stroke="rgb(73,73,73)" stroke-opacity="0.53" stroke-width="0.70"/>
<path d="M140.9 41.6L148.2 37.5" stroke="rgb(139,139,139)" stroke-opacity="0.52" stroke-width="0.66"/>
<path d="M107.1 73.4L111.1 66.4" stroke="rgb(70,70,70)" stroke-opacity="0.48" stroke-width="0.92"/>
<path d="M125.2 87.4L133.4 79.4" stroke="rgb(144,144,144)" stroke-opacity="0.52" stroke-width="0.79"/>
<path d="M140.4 25.1L146.8 24.4" stroke="rgb(85,85,85)" stroke-opacity="0.42" stroke-width="0.94"/>
<path d="M151.2 32.7L160.5 30.0" stroke="rgb(73,73,73)" stroke-opacity="0.47" stroke-width="1.01"/>
<path d="M119.5 87.1L123.7 82.5" stroke="rgb(146,146,146)" stroke-opacity="0.50" stroke-width="0.60"/>
<path d="M143.4 88.1L155.3 87.1" stroke="rgb(65,65,65)" stroke-opacity="0.72" stroke-width="0.60"/>
<path d="M103.0 39.8L107.9 28.9" stroke="rgb(154,154,154)" stroke-opacity="0.85" stroke-width="0.73"/>
<path d="M158.9 81.2L171.6 82.1" stroke="rgb(88,88,88)" stroke-opacity="0.63" stroke-width="0.66"/>
<path d="M128.5 61.7L134.1 56.4" stroke="rgb(167,167,167)" stroke-opacity="0.70" stroke-width="1.09"/>
<path d="M136.3 74.1L143.9 70.4" stroke="rgb(212,212,212)" stroke-opacity="0.76" stroke-width="0.70"/>
<path d="M147.6 75.6L158.8 75.4" stroke="rgb(150,150,150)" stroke-opacity="0.75" stroke-width="1.03"/>
<path d="M131.3 65.2L135.5 62.0" stroke="rgb(155,155,155)" stroke-opacity="0.76" stroke-width="0.67"/>
<path d="M122.3 51.5L128.8 47.8" stroke="rgb(183,183,183)" stroke-opacity="0.63" stroke-width="0.91"/>
<path d="M154.6 97.2L161.5 95.7" stroke="rgb(136,136,136)" stroke-opacity="0.60" stroke-width="0.58"/>
<path d="M113.0 29.7L122.2 21.0" stroke="rgb(177,177,177)" stroke-opacity="0.80" stroke-width="0.72"/>
<path d="M150.4 50.5L160.4 46.2" stroke="rgb(141,141,141)" stroke-opacity="0.63" stroke-width="0.70"/>
<path d="M123.8 80.0L133.3 72.4" stroke="rgb(76,76,76)" stroke-opacity="0.52" stroke-width="0.64"/>
<path d="M100.9 73.3L98.2 68.5" stroke="rgb(69,69,69)" stroke-opacity="0.53" stroke-width="1.02"/>
<path d="M160.6 55.9L166.8 53.8" stroke="rgb(73,73,73)" stroke-opacity="0.60" stroke-width="0.61"/>
<path d="M105.0 65.4L114.6 56.8" stroke="rgb(146,146,146)" stroke-opacity="0.63" stroke-width="0.56"/>
<path d="M116.3 82.9L120.8 76.7" stroke="rgb(81,81,81)" stroke-opacity="0.69" stroke-width="0.66"/>
</g>
<defs><filter id="soft" x="-5%" y="-5%" width="110%" height="110%"><feGaussianBlur stdDeviation="0.5"/></filter><clipPath id="clipimg"><rect x="86.2" y="22.9" width="87" height="74.8"/></clipPath></defs>
<text x="37.8" y="108.3" font-size="9.9" text-anchor="middle" textLength="46.7" lengthAdjust="spacingAndGlyphs">Skin punch</text>
<text x="37.8" y="119.0" font-size="9.9" text-anchor="middle" textLength="28.5" lengthAdjust="spacingAndGlyphs">biopsy</text>
<text x="129.3" y="111.0" font-size="9.9" text-anchor="middle" textLength="47.5" lengthAdjust="spacingAndGlyphs">Fibroblasts</text>
<text x="231.6" y="54.8" font-size="9.9" text-anchor="middle" textLength="43.8" lengthAdjust="spacingAndGlyphs">Functional</text>
<text x="231.3" y="65.3" font-size="9.9" text-anchor="middle" textLength="32" lengthAdjust="spacingAndGlyphs">analysis</text>
<text x="6.2" y="119.2" font-size="10.6" font-weight="bold">a</text>
</g>
<g id="pb">
<line x1="398.25" y1="41.8" x2="398.25" y2="33.6" stroke="#111111" stroke-width="1.7" stroke-linecap="butt"/>
<line x1="390.5" y1="33.6" x2="406.0" y2="33.6" stroke="#111111" stroke-width="1.6" stroke-linecap="butt"/>
<rect x="381.65" y="42.6" width="33.2" height="80.45" fill="#ffffff" stroke="#111111" stroke-width="1.6"/>
<line x1="448.3" y1="78.0" x2="448.3" y2="72.0" stroke="#111111" stroke-width="1.7" stroke-linecap="butt"/>
<line x1="440.3" y1="72.0" x2="456.3" y2="72.0" stroke="#111111" stroke-width="1.6" stroke-linecap="butt"/>
<rect x="431.7" y="78.8" width="33.2" height="44.25" fill="#0c0c0c" stroke="#111111" stroke-width="1.6"/>
<line x1="373.1" y1="21.2" x2="373.1" y2="123.15" stroke="#111111" stroke-width="1.7" stroke-linecap="butt"/>
<line x1="372.6" y1="122.55" x2="473.8" y2="122.55" stroke="#111111" stroke-width="2.1" stroke-linecap="butt"/>
<line x1="368.7" y1="34.4" x2="373" y2="34.4" stroke="#111111" stroke-width="1.5" stroke-linecap="butt"/>
<text x="366.1" y="37.75" font-size="9.4" text-anchor="end" textLength="17.2" lengthAdjust="spacingAndGlyphs">1.00</text>
<line x1="368.7" y1="56.4" x2="373" y2="56.4" stroke="#111111" stroke-width="1.5" stroke-linecap="butt"/>
<text x="366.1" y="59.75" font-size="9.4" text-anchor="end" textLength="17.2" lengthAdjust="spacingAndGlyphs">0.75</text>
<line x1="368.7" y1="78.3" x2="373" y2="78.3" stroke="#111111" stroke-width="1.5" stroke-linecap="butt"/>
<text x="366.1" y="81.65" font-size="9.4" text-anchor="end" textLength="17.2" lengthAdjust="spacingAndGlyphs">0.50</text>
<line x1="368.7" y1="100.3" x2="373" y2="100.3" stroke="#111111" stroke-width="1.5" stroke-linecap="butt"/>
<text x="366.1" y="103.65" font-size="9.4" text-anchor="end" textLength="17.2" lengthAdjust="spacingAndGlyphs">0.25</text>
<line x1="368.7" y1="122.25" x2="373" y2="122.25" stroke="#111111" stroke-width="1.5" stroke-linecap="butt"/>
<text x="366.1" y="125.6" font-size="9.4" text-anchor="end" textLength="5.0" lengthAdjust="spacingAndGlyphs">0</text>
<line x1="398.25" y1="122.25" x2="398.25" y2="126.75" stroke="#111111" stroke-width="1.5" stroke-linecap="butt"/>
<line x1="448.3" y1="122.25" x2="448.3" y2="126.75" stroke="#111111" stroke-width="1.5" stroke-linecap="butt"/>
<path d="M398.25 29.8V24.4H448.1V67.5" fill="none" stroke="#111111" stroke-width="1.5" stroke-linejoin="miter"/>
<text x="414.77" y="22.86" font-size="11.0" letter-spacing="2.67" style="stroke-width:.55px" font-family='"DejaVu Sans", "Liberation Sans", sans-serif'>**</text>
<text x="382.0" y="11.3" font-size="9.4" textLength="19.6" lengthAdjust="spacingAndGlyphs">Total</text>
<text x="405.2" y="11.3" font-size="9.4" font-style="italic" textLength="20.5" lengthAdjust="spacingAndGlyphs">TCF4</text>
<text x="429.4" y="11.3" font-size="9.4" textLength="26.6" lengthAdjust="spacingAndGlyphs">mRNA</text>
<text x="342.5" y="78.5" font-size="9.4" text-anchor="middle" textLength="85" lengthAdjust="spacingAndGlyphs" transform="rotate(-90 342.5 78.5)">Relative mRNA level</text>
<text x="398.2" y="136.3" font-size="9.5" text-anchor="middle" textLength="31.3" lengthAdjust="spacingAndGlyphs">Control</text>
<text x="450.1" y="136.3" font-size="9.5" text-anchor="middle" textLength="28.8" lengthAdjust="spacingAndGlyphs">Patient</text>
<text x="398.2" y="145.8" font-size="8" text-anchor="middle" textLength="47.5" lengthAdjust="spacingAndGlyphs"><tspan font-style="italic">n</tspan> = 2 donors</text>
<text x="450" y="145.8" font-size="8" text-anchor="middle" textLength="47.5" lengthAdjust="spacingAndGlyphs"><tspan font-style="italic">n</tspan> = 2 donors</text>
<text x="334.3" y="145.8" font-size="10.6" font-weight="bold">b</text>
</g>
<g id="pc">
<line x1="83.8" y1="250.75" x2="83.8" y2="246.25" stroke="#111111" stroke-width="1.7" stroke-linecap="butt"/>
<line x1="81.39999999999999" y1="246.25" x2="86.2" y2="246.25" stroke="#111111" stroke-width="1.6" stroke-linecap="butt"/>
<rect x="79.25" y="251.55" width="9.1" height="70.0" fill="#ffffff" stroke="#111111" stroke-width="1.6"/>
<line x1="97.8" y1="237" x2="97.8" y2="228.25" stroke="#111111" stroke-width="1.7" stroke-linecap="butt"/>
<line x1="95.39999999999999" y1="228.25" x2="100.2" y2="228.25" stroke="#111111" stroke-width="1.6" stroke-linecap="butt"/>
<rect x="93.25" y="237.8" width="9.1" height="83.75" fill="#5bb04a" stroke="#111111" stroke-width="1.6"/>
<line x1="111.8" y1="260" x2="111.8" y2="248.25" stroke="#111111" stroke-width="1.7" stroke-linecap="butt"/>
<line x1="109.39999999999999" y1="248.25" x2="114.2" y2="248.25" stroke="#111111" stroke-width="1.6" stroke-linecap="butt"/>
<rect x="107.25" y="260.8" width="9.1" height="60.75" fill="#23509f" stroke="#111111" stroke-width="1.6"/>
<line x1="125.8" y1="263" x2="125.8" y2="248.75" stroke="#111111" stroke-width="1.7" stroke-linecap="butt"/>
<line x1="123.39999999999999" y1="248.75" x2="128.2" y2="248.75" stroke="#111111" stroke-width="1.6" stroke-linecap="butt"/>
<rect x="121.25" y="263.8" width="9.1" height="57.75" fill="#ffffff" stroke="#111111" stroke-width="1.6"/>
<line x1="139.8" y1="212" x2="139.8" y2="209.5" stroke="#111111" stroke-width="1.7" stroke-linecap="butt"/>
<line x1="137.4" y1="209.5" x2="142.20000000000002" y2="209.5" stroke="#111111" stroke-width="1.6" stroke-linecap="butt"/>
<rect x="135.25" y="212.8" width="9.1" height="108.75" fill="#5bb04a" stroke="#111111" stroke-width="1.6"/>
<line x1="153.8" y1="266.75" x2="153.8" y2="261.75" stroke="#111111" stroke-width="1.7" stroke-linecap="butt"/>
<line x1="151.4" y1="261.75" x2="156.20000000000002" y2="261.75" stroke="#111111" stroke-width="1.6" stroke-linecap="butt"/>
<rect x="149.25" y="267.55" width="9.1" height="54.0" fill="#23509f" stroke="#111111" stroke-width="1.6"/>
<rect x="163.25" y="297.3" width="9.1" height="24.25" fill="#ffffff" stroke="#111111" stroke-width="1.6"/>
<line x1="181.8" y1="228" x2="181.8" y2="215.0" stroke="#111111" stroke-width="1.7" stroke-linecap="butt"/>
<line x1="179.4" y1="215.0" x2="184.20000000000002" y2="215.0" stroke="#111111" stroke-width="1.6" stroke-linecap="butt"/>
<rect x="177.25" y="228.8" width="9.1" height="92.75" fill="#5bb04a" stroke="#111111" stroke-width="1.6"/>
<line x1="195.8" y1="303.25" x2="195.8" y2="301.0" stroke="#111111" stroke-width="1.7" stroke-linecap="butt"/>
<line x1="193.4" y1="301.0" x2="198.20000000000002" y2="301.0" stroke="#111111" stroke-width="1.6" stroke-linecap="butt"/>
<rect x="191.25" y="304.05" width="9.1" height="17.5" fill="#23509f" stroke="#111111" stroke-width="1.6"/>
<line x1="209.8" y1="275.5" x2="209.8" y2="268.0" stroke="#111111" stroke-width="1.7" stroke-linecap="butt"/>
<line x1="207.4" y1="268.0" x2="212.20000000000002" y2="268.0" stroke="#111111" stroke-width="1.6" stroke-linecap="butt"/>
<rect x="205.25" y="276.3" width="9.1" height="45.25" fill="#ffffff" stroke="#111111" stroke-width="1.6"/>
<line x1="223.8" y1="229.5" x2="223.8" y2="221.25" stroke="#111111" stroke-width="1.7" stroke-linecap="butt"/>
<line x1="221.4" y1="221.25" x2="226.20000000000002" y2="221.25" stroke="#111111" stroke-width="1.6" stroke-linecap="butt"/>
<rect x="219.25" y="230.3" width="9.1" height="91.25" fill="#5bb04a" stroke="#111111" stroke-width="1.6"/>
<line x1="237.8" y1="267.25" x2="237.8" y2="256.75" stroke="#111111" stroke-width="1.7" stroke-linecap="butt"/>
<line x1="235.4" y1="256.75" x2="240.20000000000002" y2="256.75" stroke="#111111" stroke-width="1.6" stroke-linecap="butt"/>
<rect x="233.25" y="268.05" width="9.1" height="53.5" fill="#23509f" stroke="#111111" stroke-width="1.6"/>
<line x1="76.69999999999999" y1="207" x2="76.69999999999999" y2="321.65" stroke="#111111" stroke-width="1.7" stroke-linecap="butt"/>
<line x1="76.19999999999999" y1="321.05" x2="243.8" y2="321.05" stroke="#111111" stroke-width="2.1" stroke-linecap="butt"/>
<line x1="71.89999999999999" y1="215.75" x2="76.6" y2="215.75" stroke="#111111" stroke-width="1.5" stroke-linecap="butt"/>
<text x="69.4" y="219.1" font-size="9.4" text-anchor="end" textLength="17.2" lengthAdjust="spacingAndGlyphs">1.50</text>
<line x1="71.89999999999999" y1="233.25" x2="76.6" y2="233.25" stroke="#111111" stroke-width="1.5" stroke-linecap="butt"/>
<text x="69.4" y="236.6" font-size="9.4" text-anchor="end" textLength="17.2" lengthAdjust="spacingAndGlyphs">1.25</text>
<line x1="71.89999999999999" y1="250.75" x2="76.6" y2="250.75" stroke="#111111" stroke-width="1.5" stroke-linecap="butt"/>
<text x="69.4" y="254.1" font-size="9.4" text-anchor="end" textLength="17.2" lengthAdjust="spacingAndGlyphs">1.00</text>
<line x1="71.89999999999999" y1="268.25" x2="76.6" y2="268.25" stroke="#111111" stroke-width="1.5" stroke-linecap="butt"/>
<text x="69.4" y="271.6" font-size="9.4" text-anchor="end" textLength="17.2" lengthAdjust="spacingAndGlyphs">0.75</text>
<line x1="71.89999999999999" y1="285.75" x2="76.6" y2="285.75" stroke="#111111" stroke-width="1.5" stroke-linecap="butt"/>
<text x="69.4" y="289.1" font-size="9.4" text-anchor="end" textLength="17.2" lengthAdjust="spacingAndGlyphs">0.50</text>
<line x1="71.89999999999999" y1="303.25" x2="76.6" y2="303.25" stroke="#111111" stroke-width="1.5" stroke-linecap="butt"/>
<text x="69.4" y="306.6" font-size="9.4" text-anchor="end" textLength="17.2" lengthAdjust="spacingAndGlyphs">0.25</text>
<line x1="71.89999999999999" y1="320.75" x2="76.6" y2="320.75" stroke="#111111" stroke-width="1.5" stroke-linecap="butt"/>
<text x="69.4" y="324.1" font-size="9.4" text-anchor="end" textLength="5.0" lengthAdjust="spacingAndGlyphs">0</text>
<line x1="83.8" y1="320.75" x2="83.8" y2="325.35" stroke="#111111" stroke-width="1.5" stroke-linecap="butt"/>
<text x="87.2" y="329.05" font-size="9.4" text-anchor="end" textLength="26.6" lengthAdjust="spacingAndGlyphs" transform="rotate(-90 87.2 329.05)">DMSO</text>
<line x1="97.8" y1="320.75" x2="97.8" y2="325.35" stroke="#111111" stroke-width="1.5" stroke-linecap="butt"/>
<text x="101.2" y="329.05" font-size="9.4" text-anchor="end" textLength="51.5" lengthAdjust="spacingAndGlyphs" transform="rotate(-90 101.2 329.05)">CHIR-99021</text>
<path d="M94.2 380.15000000000003V381.15000000000003H101.39999999999999V380.15000000000003" fill="none" stroke="#a8dba4" stroke-width="0.6"/>
<line x1="111.8" y1="320.75" x2="111.8" y2="325.35" stroke="#111111" stroke-width="1.5" stroke-linecap="butt"/>
<text x="115.2" y="329.05" font-size="9.4" text-anchor="end" textLength="28.8" lengthAdjust="spacingAndGlyphs" transform="rotate(-90 115.2 329.05)">CI-994</text>
<path d="M108.2 357.45000000000005V358.45000000000005H115.39999999999999V357.45000000000005" fill="none" stroke="#a8dba4" stroke-width="0.6"/>
<line x1="125.8" y1="320.75" x2="125.8" y2="325.35" stroke="#111111" stroke-width="1.5" stroke-linecap="butt"/>
<text x="129.2" y="329.05" font-size="9.4" text-anchor="end" textLength="26.6" lengthAdjust="spacingAndGlyphs" transform="rotate(-90 129.2 329.05)">DMSO</text>
<line x1="139.8" y1="320.75" x2="139.8" y2="325.35" stroke="#111111" stroke-width="1.5" stroke-linecap="butt"/>
<text x="143.2" y="329.05" font-size="9.4" text-anchor="end" textLength="51.5" lengthAdjust="spacingAndGlyphs" transform="rotate(-90 143.2 329.05)">CHIR-99021</text>
<path d="M136.20000000000002 380.15000000000003V381.15000000000003H143.4V380.15000000000003" fill="none" stroke="#a8dba4" stroke-width="0.6"/>
<line x1="153.8" y1="320.75" x2="153.8" y2="325.35" stroke="#111111" stroke-width="1.5" stroke-linecap="butt"/>
<text x="157.2" y="329.05" font-size="9.4" text-anchor="end" textLength="28.8" lengthAdjust="spacingAndGlyphs" transform="rotate(-90 157.2 329.05)">CI-994</text>
<path d="M150.20000000000002 357.45000000000005V358.45000000000005H157.4V357.45000000000005" fill="none" stroke="#a8dba4" stroke-width="0.6"/>
<line x1="167.8" y1="320.75" x2="167.8" y2="325.35" stroke="#111111" stroke-width="1.5" stroke-linecap="butt"/>
<text x="171.2" y="329.05" font-size="9.4" text-anchor="end" textLength="26.6" lengthAdjust="spacingAndGlyphs" transform="rotate(-90 171.2 329.05)">DMSO</text>
<line x1="181.8" y1="320.75" x2="181.8" y2="325.35" stroke="#111111" stroke-width="1.5" stroke-linecap="butt"/>
<text x="185.2" y="329.05" font-size="9.4" text-anchor="end" textLength="51.5" lengthAdjust="spacingAndGlyphs" transform="rotate(-90 185.2 329.05)">CHIR-99021</text>
<path d="M178.20000000000002 380.15000000000003V381.15000000000003H185.4V380.15000000000003" fill="none" stroke="#a8dba4" stroke-width="0.6"/>
<line x1="195.8" y1="320.75" x2="195.8" y2="325.35" stroke="#111111" stroke-width="1.5" stroke-linecap="butt"/>
<text x="199.2" y="329.05" font-size="9.4" text-anchor="end" textLength="28.8" lengthAdjust="spacingAndGlyphs" transform="rotate(-90 199.2 329.05)">CI-994</text>
<path d="M192.20000000000002 357.45000000000005V358.45000000000005H199.4V357.45000000000005" fill="none" stroke="#a8dba4" stroke-width="0.6"/>
<line x1="209.8" y1="320.75" x2="209.8" y2="325.35" stroke="#111111" stroke-width="1.5" stroke-linecap="butt"/>
<text x="213.2" y="329.05" font-size="9.4" text-anchor="end" textLength="26.6" lengthAdjust="spacingAndGlyphs" transform="rotate(-90 213.2 329.05)">DMSO</text>
<line x1="223.8" y1="320.75" x2="223.8" y2="325.35" stroke="#111111" stroke-width="1.5" stroke-linecap="butt"/>
<text x="227.2" y="329.05" font-size="9.4" text-anchor="end" textLength="51.5" lengthAdjust="spacingAndGlyphs" transform="rotate(-90 227.2 329.05)">CHIR-99021</text>
<path d="M220.20000000000002 380.15000000000003V381.15000000000003H227.4V380.15000000000003" fill="none" stroke="#a8dba4" stroke-width="0.6"/>
<line x1="237.8" y1="320.75" x2="237.8" y2="325.35" stroke="#111111" stroke-width="1.5" stroke-linecap="butt"/>
<text x="241.2" y="329.05" font-size="9.4" text-anchor="end" textLength="28.8" lengthAdjust="spacingAndGlyphs" transform="rotate(-90 241.2 329.05)">CI-994</text>
<path d="M234.20000000000002 357.45000000000005V358.45000000000005H241.4V357.45000000000005" fill="none" stroke="#a8dba4" stroke-width="0.6"/>
<line x1="83.8" y1="386.85" x2="113.0" y2="386.85" stroke="#111111" stroke-width="1.8" stroke-linecap="butt"/>
<text x="98.2" y="397.85" font-size="9.4" text-anchor="middle" textLength="39.3" lengthAdjust="spacingAndGlyphs">Control 1</text>
<line x1="125.8" y1="386.85" x2="155.0" y2="386.85" stroke="#111111" stroke-width="1.8" stroke-linecap="butt"/>
<text x="140.2" y="397.85" font-size="9.4" text-anchor="middle" textLength="39.3" lengthAdjust="spacingAndGlyphs">Control 2</text>
<line x1="167.8" y1="386.85" x2="197.0" y2="386.85" stroke="#111111" stroke-width="1.8" stroke-linecap="butt"/>
<text x="182.2" y="397.85" font-size="9.4" text-anchor="middle" textLength="38.3" lengthAdjust="spacingAndGlyphs">Patient 1</text>
<line x1="209.8" y1="386.85" x2="239.0" y2="386.85" stroke="#111111" stroke-width="1.8" stroke-linecap="butt"/>
<text x="224.2" y="397.85" font-size="9.4" text-anchor="middle" textLength="38.3" lengthAdjust="spacingAndGlyphs">Patient 2</text>
<path d="M125.6 246.3V202H140V207.5" fill="none" stroke="#111111" stroke-width="1.5" stroke-linejoin="miter"/>
<text x="127.22" y="200.86" font-size="11.0" letter-spacing="2.17" style="stroke-width:.55px" font-family='"DejaVu Sans", "Liberation Sans", sans-serif'>**</text>
<path d="M167 293.8V208H181.3V212.5" fill="none" stroke="#111111" stroke-width="1.5" stroke-linejoin="miter"/>
<text x="160.22" y="205.36" font-size="11.0" letter-spacing="2.46" style="stroke-width:.55px" font-family='"DejaVu Sans", "Liberation Sans", sans-serif'>****</text>
<path d="M208.8 266.3V212.5H223.3V218.8" fill="none" stroke="#111111" stroke-width="1.5" stroke-linejoin="miter"/>
<text x="210.42" y="211.16" font-size="11.0" letter-spacing="3.17" style="stroke-width:.55px" font-family='"DejaVu Sans", "Liberation Sans", sans-serif'>**</text>
<text x="109.2" y="187.2" font-size="9.4" textLength="19.7" lengthAdjust="spacingAndGlyphs">Total</text>
<text x="132.5" y="187.2" font-size="9.4" font-style="italic" textLength="20.3" lengthAdjust="spacingAndGlyphs">TCF4</text>
<text x="156.4" y="187.2" font-size="9.4" textLength="44.3" lengthAdjust="spacingAndGlyphs">transcripts</text>
<text x="45.7" y="268" font-size="9.4" text-anchor="middle" textLength="84" lengthAdjust="spacingAndGlyphs" transform="rotate(-90 45.7 268)">Relative mRNA level</text>
<text x="38.5" y="397.9" font-size="10.6" font-weight="bold">c</text>
</g>
<g id="pd">
<line x1="347" y1="299.25" x2="347" y2="293.75" stroke="#111111" stroke-width="1.7" stroke-linecap="butt"/>
<line x1="344.6" y1="293.75" x2="349.4" y2="293.75" stroke="#111111" stroke-width="1.6" stroke-linecap="butt"/>
<rect x="342.45" y="300.05" width="9.1" height="21.5" fill="#ffffff" stroke="#111111" stroke-width="1.6"/>
<line x1="361" y1="288.25" x2="361" y2="283.25" stroke="#111111" stroke-width="1.7" stroke-linecap="butt"/>
<line x1="358.6" y1="283.25" x2="363.4" y2="283.25" stroke="#111111" stroke-width="1.6" stroke-linecap="butt"/>
<rect x="356.45" y="289.05" width="9.1" height="32.5" fill="#5bb04a" stroke="#111111" stroke-width="1.6"/>
<line x1="375" y1="227" x2="375" y2="211.25" stroke="#111111" stroke-width="1.7" stroke-linecap="butt"/>
<line x1="372.6" y1="211.25" x2="377.4" y2="211.25" stroke="#111111" stroke-width="1.6" stroke-linecap="butt"/>
<rect x="370.45" y="227.8" width="9.1" height="93.75" fill="#23509f" stroke="#111111" stroke-width="1.6"/>
<line x1="389" y1="298.25" x2="389" y2="289.25" stroke="#111111" stroke-width="1.7" stroke-linecap="butt"/>
<line x1="386.6" y1="289.25" x2="391.4" y2="289.25" stroke="#111111" stroke-width="1.6" stroke-linecap="butt"/>
<rect x="384.45" y="299.05" width="9.1" height="22.5" fill="#ffffff" stroke="#111111" stroke-width="1.6"/>
<line x1="403" y1="286.75" x2="403" y2="276.25" stroke="#111111" stroke-width="1.7" stroke-linecap="butt"/>
<line x1="400.6" y1="276.25" x2="405.4" y2="276.25" stroke="#111111" stroke-width="1.6" stroke-linecap="butt"/>
<rect x="398.45" y="287.55" width="9.1" height="34.0" fill="#5bb04a" stroke="#111111" stroke-width="1.6"/>
<line x1="417" y1="252" x2="417" y2="240.75" stroke="#111111" stroke-width="1.7" stroke-linecap="butt"/>
<line x1="414.6" y1="240.75" x2="419.4" y2="240.75" stroke="#111111" stroke-width="1.6" stroke-linecap="butt"/>
<rect x="412.45" y="252.8" width="9.1" height="68.75" fill="#23509f" stroke="#111111" stroke-width="1.6"/>
<line x1="431" y1="313.25" x2="431" y2="311.25" stroke="#111111" stroke-width="1.7" stroke-linecap="butt"/>
<line x1="428.6" y1="311.25" x2="433.4" y2="311.25" stroke="#111111" stroke-width="1.6" stroke-linecap="butt"/>
<rect x="426.45" y="314.05" width="9.1" height="7.5" fill="#ffffff" stroke="#111111" stroke-width="1.6"/>
<line x1="445" y1="308.75" x2="445" y2="307.5" stroke="#111111" stroke-width="1.7" stroke-linecap="butt"/>
<line x1="442.6" y1="307.5" x2="447.4" y2="307.5" stroke="#111111" stroke-width="1.6" stroke-linecap="butt"/>
<rect x="440.45" y="309.55" width="9.1" height="12.0" fill="#5bb04a" stroke="#111111" stroke-width="1.6"/>
<line x1="459" y1="305.75" x2="459" y2="302.5" stroke="#111111" stroke-width="1.7" stroke-linecap="butt"/>
<line x1="456.6" y1="302.5" x2="461.4" y2="302.5" stroke="#111111" stroke-width="1.6" stroke-linecap="butt"/>
<rect x="454.45" y="306.55" width="9.1" height="15.0" fill="#23509f" stroke="#111111" stroke-width="1.6"/>
<line x1="473" y1="300.75" x2="473" y2="297.5" stroke="#111111" stroke-width="1.7" stroke-linecap="butt"/>
<line x1="470.6" y1="297.5" x2="475.4" y2="297.5" stroke="#111111" stroke-width="1.6" stroke-linecap="butt"/>
<rect x="468.45" y="301.55" width="9.1" height="20.0" fill="#ffffff" stroke="#111111" stroke-width="1.6"/>
<line x1="487" y1="285" x2="487" y2="265.75" stroke="#111111" stroke-width="1.7" stroke-linecap="butt"/>
<line x1="484.6" y1="265.75" x2="489.4" y2="265.75" stroke="#111111" stroke-width="1.6" stroke-linecap="butt"/>
<rect x="482.45" y="285.8" width="9.1" height="35.75" fill="#5bb04a" stroke="#111111" stroke-width="1.6"/>
<line x1="501" y1="269.5" x2="501" y2="261.75" stroke="#111111" stroke-width="1.7" stroke-linecap="butt"/>
<line x1="498.6" y1="261.75" x2="503.4" y2="261.75" stroke="#111111" stroke-width="1.6" stroke-linecap="butt"/>
<rect x="496.45" y="270.3" width="9.1" height="51.25" fill="#23509f" stroke="#111111" stroke-width="1.6"/>
<line x1="340.1" y1="206.2" x2="340.1" y2="321.65" stroke="#111111" stroke-width="1.7" stroke-linecap="butt"/>
<line x1="339.6" y1="321.05" x2="507" y2="321.05" stroke="#111111" stroke-width="2.1" stroke-linecap="butt"/>
<line x1="335.3" y1="218" x2="340" y2="218" stroke="#111111" stroke-width="1.5" stroke-linecap="butt"/>
<text x="333.6" y="221.35" font-size="9.4" text-anchor="end" textLength="5.0" lengthAdjust="spacingAndGlyphs">5</text>
<line x1="335.3" y1="238.5" x2="340" y2="238.5" stroke="#111111" stroke-width="1.5" stroke-linecap="butt"/>
<text x="333.6" y="241.85" font-size="9.4" text-anchor="end" textLength="5.0" lengthAdjust="spacingAndGlyphs">4</text>
<line x1="335.3" y1="259" x2="340" y2="259" stroke="#111111" stroke-width="1.5" stroke-linecap="butt"/>
<text x="333.6" y="262.35" font-size="9.4" text-anchor="end" textLength="5.0" lengthAdjust="spacingAndGlyphs">3</text>
<line x1="335.3" y1="279.5" x2="340" y2="279.5" stroke="#111111" stroke-width="1.5" stroke-linecap="butt"/>
<text x="333.6" y="282.85" font-size="9.4" text-anchor="end" textLength="5.0" lengthAdjust="spacingAndGlyphs">2</text>
<line x1="335.3" y1="300" x2="340" y2="300" stroke="#111111" stroke-width="1.5" stroke-linecap="butt"/>
<text x="333.6" y="303.35" font-size="9.4" text-anchor="end" textLength="5.0" lengthAdjust="spacingAndGlyphs">1</text>
<line x1="335.3" y1="320.75" x2="340" y2="320.75" stroke="#111111" stroke-width="1.5" stroke-linecap="butt"/>
<text x="333.6" y="324.1" font-size="9.4" text-anchor="end" textLength="5.0" lengthAdjust="spacingAndGlyphs">0</text>
<line x1="347" y1="320.75" x2="347" y2="325.35" stroke="#111111" stroke-width="1.5" stroke-linecap="butt"/>
<text x="350.4" y="329.05" font-size="9.4" text-anchor="end" textLength="26.6" lengthAdjust="spacingAndGlyphs" transform="rotate(-90 350.4 329.05)">DMSO</text>
<line x1="361" y1="320.75" x2="361" y2="325.35" stroke="#111111" stroke-width="1.5" stroke-linecap="butt"/>
<text x="364.4" y="329.05" font-size="9.4" text-anchor="end" textLength="51.5" lengthAdjust="spacingAndGlyphs" transform="rotate(-90 364.4 329.05)">CHIR-99021</text>
<path d="M357.4 380.15000000000003V381.15000000000003H364.6V380.15000000000003" fill="none" stroke="#a8dba4" stroke-width="0.6"/>
<line x1="375" y1="320.75" x2="375" y2="325.35" stroke="#111111" stroke-width="1.5" stroke-linecap="butt"/>
<text x="378.4" y="329.05" font-size="9.4" text-anchor="end" textLength="28.8" lengthAdjust="spacingAndGlyphs" transform="rotate(-90 378.4 329.05)">CI-994</text>
<path d="M371.4 357.45000000000005V358.45000000000005H378.6V357.45000000000005" fill="none" stroke="#a8dba4" stroke-width="0.6"/>
<line x1="389" y1="320.75" x2="389" y2="325.35" stroke="#111111" stroke-width="1.5" stroke-linecap="butt"/>
<text x="392.4" y="329.05" font-size="9.4" text-anchor="end" textLength="26.6" lengthAdjust="spacingAndGlyphs" transform="rotate(-90 392.4 329.05)">DMSO</text>
<line x1="403" y1="320.75" x2="403" y2="325.35" stroke="#111111" stroke-width="1.5" stroke-linecap="butt"/>
<text x="406.4" y="329.05" font-size="9.4" text-anchor="end" textLength="51.5" lengthAdjust="spacingAndGlyphs" transform="rotate(-90 406.4 329.05)">CHIR-99021</text>
<path d="M399.4 380.15000000000003V381.15000000000003H406.6V380.15000000000003" fill="none" stroke="#a8dba4" stroke-width="0.6"/>
<line x1="417" y1="320.75" x2="417" y2="325.35" stroke="#111111" stroke-width="1.5" stroke-linecap="butt"/>
<text x="420.4" y="329.05" font-size="9.4" text-anchor="end" textLength="28.8" lengthAdjust="spacingAndGlyphs" transform="rotate(-90 420.4 329.05)">CI-994</text>
<path d="M413.4 357.45000000000005V358.45000000000005H420.6V357.45000000000005" fill="none" stroke="#a8dba4" stroke-width="0.6"/>
<line x1="431" y1="320.75" x2="431" y2="325.35" stroke="#111111" stroke-width="1.5" stroke-linecap="butt"/>
<text x="434.4" y="329.05" font-size="9.4" text-anchor="end" textLength="26.6" lengthAdjust="spacingAndGlyphs" transform="rotate(-90 434.4 329.05)">DMSO</text>
<line x1="445" y1="320.75" x2="445" y2="325.35" stroke="#111111" stroke-width="1.5" stroke-linecap="butt"/>
<text x="448.4" y="329.05" font-size="9.4" text-anchor="end" textLength="51.5" lengthAdjust="spacingAndGlyphs" transform="rotate(-90 448.4 329.05)">CHIR-99021</text>
<path d="M441.4 380.15000000000003V381.15000000000003H448.6V380.15000000000003" fill="none" stroke="#a8dba4" stroke-width="0.6"/>
<line x1="459" y1="320.75" x2="459" y2="325.35" stroke="#111111" stroke-width="1.5" stroke-linecap="butt"/>
<text x="462.4" y="329.05" font-size="9.4" text-anchor="end" textLength="28.8" lengthAdjust="spacingAndGlyphs" transform="rotate(-90 462.4 329.05)">CI-994</text>
<path d="M455.4 357.45000000000005V358.45000000000005H462.6V357.45000000000005" fill="none" stroke="#a8dba4" stroke-width="0.6"/>
<line x1="473" y1="320.75" x2="473" y2="325.35" stroke="#111111" stroke-width="1.5" stroke-linecap="butt"/>
<text x="476.4" y="329.05" font-size="9.4" text-anchor="end" textLength="26.6" lengthAdjust="spacingAndGlyphs" transform="rotate(-90 476.4 329.05)">DMSO</text>
<line x1="487" y1="320.75" x2="487" y2="325.35" stroke="#111111" stroke-width="1.5" stroke-linecap="butt"/>
<text x="490.4" y="329.05" font-size="9.4" text-anchor="end" textLength="51.5" lengthAdjust="spacingAndGlyphs" transform="rotate(-90 490.4 329.05)">CHIR-99021</text>
<path d="M483.4 380.15000000000003V381.15000000000003H490.6V380.15000000000003" fill="none" stroke="#a8dba4" stroke-width="0.6"/>
<line x1="501" y1="320.75" x2="501" y2="325.35" stroke="#111111" stroke-width="1.5" stroke-linecap="butt"/>
<text x="504.4" y="329.05" font-size="9.4" text-anchor="end" textLength="28.8" lengthAdjust="spacingAndGlyphs" transform="rotate(-90 504.4 329.05)">CI-994</text>
<path d="M497.4 357.45000000000005V358.45000000000005H504.6V357.45000000000005" fill="none" stroke="#a8dba4" stroke-width="0.6"/>
<line x1="347" y1="386.85" x2="376.2" y2="386.85" stroke="#111111" stroke-width="1.8" stroke-linecap="butt"/>
<text x="361.4" y="397.85" font-size="9.4" text-anchor="middle" textLength="39.3" lengthAdjust="spacingAndGlyphs">Control 1</text>
<line x1="389" y1="386.85" x2="418.2" y2="386.85" stroke="#111111" stroke-width="1.8" stroke-linecap="butt"/>
<text x="403.4" y="397.85" font-size="9.4" text-anchor="middle" textLength="39.3" lengthAdjust="spacingAndGlyphs">Control 2</text>
<line x1="431" y1="386.85" x2="460.2" y2="386.85" stroke="#111111" stroke-width="1.8" stroke-linecap="butt"/>
<text x="445.4" y="397.85" font-size="9.4" text-anchor="middle" textLength="38.3" lengthAdjust="spacingAndGlyphs">Patient 1</text>
<line x1="473" y1="386.85" x2="502.2" y2="386.85" stroke="#111111" stroke-width="1.8" stroke-linecap="butt"/>
<text x="487.4" y="397.85" font-size="9.4" text-anchor="middle" textLength="38.3" lengthAdjust="spacingAndGlyphs">Patient 2</text>
<path d="M347 292.5V206.4H375V209.3" fill="none" stroke="#111111" stroke-width="1.5" stroke-linejoin="miter"/>
<text x="346.72" y="205.36" font-size="11.0" letter-spacing="2.46" style="stroke-width:.55px" font-family='"DejaVu Sans", "Liberation Sans", sans-serif'>****</text>
<path d="M388.8 288V235.2H417.3V238.1" fill="none" stroke="#111111" stroke-width="1.5" stroke-linejoin="miter"/>
<text x="397.77" y="233.56" font-size="11.0" letter-spacing="2.87" style="stroke-width:.55px" font-family='"DejaVu Sans", "Liberation Sans", sans-serif'>**</text>
<path d="M472.5 295.5V255.7H501.2V258.9" fill="none" stroke="#111111" stroke-width="1.5" stroke-linejoin="miter"/>
<text x="480.77" y="254.36" font-size="11.0" letter-spacing="2.87" style="stroke-width:.55px" font-family='"DejaVu Sans", "Liberation Sans", sans-serif'>**</text>
<text x="377.7" y="187.6" font-size="9.4" font-style="italic" textLength="20.6" lengthAdjust="spacingAndGlyphs">TCF4</text>
<text x="402.2" y="187.6" font-size="9.4" textLength="43.6" lengthAdjust="spacingAndGlyphs">transcripts</text>
<text x="449.2" y="187.6" font-size="9.4" textLength="13.4" lengthAdjust="spacingAndGlyphs">4/5</text>
<text x="321.0" y="269" font-size="9.4" text-anchor="middle" textLength="85" lengthAdjust="spacingAndGlyphs" transform="rotate(-90 321.0 269)">Relative mRNA level</text>
<text x="313.7" y="397.9" font-size="10.6" font-weight="bold">d</text>
</g>
<g id="pe">
<rect x="79.25" y="585.05" width="9.1" height="7.75" fill="#ffffff" stroke="#111111" stroke-width="1.6"/>
<line x1="97.8" y1="524.5" x2="97.8" y2="517.0" stroke="#111111" stroke-width="1.7" stroke-linecap="butt"/>
<line x1="95.39999999999999" y1="517.0" x2="100.2" y2="517.0" stroke="#111111" stroke-width="1.6" stroke-linecap="butt"/>
<rect x="93.25" y="525.3" width="9.1" height="67.5" fill="#5bb04a" stroke="#111111" stroke-width="1.6"/>
<line x1="111.8" y1="565.75" x2="111.8" y2="558.75" stroke="#111111" stroke-width="1.7" stroke-linecap="butt"/>
<line x1="109.39999999999999" y1="558.75" x2="114.2" y2="558.75" stroke="#111111" stroke-width="1.6" stroke-linecap="butt"/>
<rect x="107.25" y="566.55" width="9.1" height="26.25" fill="#23509f" stroke="#111111" stroke-width="1.6"/>
<line x1="125.8" y1="575.5" x2="125.8" y2="570.0" stroke="#111111" stroke-width="1.7" stroke-linecap="butt"/>
<line x1="123.39999999999999" y1="570.0" x2="128.2" y2="570.0" stroke="#111111" stroke-width="1.6" stroke-linecap="butt"/>
<rect x="121.25" y="576.3" width="9.1" height="16.5" fill="#ffffff" stroke="#111111" stroke-width="1.6"/>
<line x1="139.8" y1="492.5" x2="139.8" y2="480.75" stroke="#111111" stroke-width="1.7" stroke-linecap="butt"/>
<line x1="137.4" y1="480.75" x2="142.20000000000002" y2="480.75" stroke="#111111" stroke-width="1.6" stroke-linecap="butt"/>
<rect x="135.25" y="493.3" width="9.1" height="99.5" fill="#5bb04a" stroke="#111111" stroke-width="1.6"/>
<line x1="153.8" y1="567.5" x2="153.8" y2="561.75" stroke="#111111" stroke-width="1.7" stroke-linecap="butt"/>
<line x1="151.4" y1="561.75" x2="156.20000000000002" y2="561.75" stroke="#111111" stroke-width="1.6" stroke-linecap="butt"/>
<rect x="149.25" y="568.3" width="9.1" height="24.5" fill="#23509f" stroke="#111111" stroke-width="1.6"/>
<line x1="167.8" y1="579.5" x2="167.8" y2="577.5" stroke="#111111" stroke-width="1.7" stroke-linecap="butt"/>
<line x1="165.4" y1="577.5" x2="170.20000000000002" y2="577.5" stroke="#111111" stroke-width="1.6" stroke-linecap="butt"/>
<rect x="163.25" y="580.3" width="9.1" height="12.5" fill="#ffffff" stroke="#111111" stroke-width="1.6"/>
<line x1="181.8" y1="501.25" x2="181.8" y2="493.0" stroke="#111111" stroke-width="1.7" stroke-linecap="butt"/>
<line x1="179.4" y1="493.0" x2="184.20000000000002" y2="493.0" stroke="#111111" stroke-width="1.6" stroke-linecap="butt"/>
<rect x="177.25" y="502.05" width="9.1" height="90.75" fill="#5bb04a" stroke="#111111" stroke-width="1.6"/>
<line x1="195.8" y1="577.5" x2="195.8" y2="573.75" stroke="#111111" stroke-width="1.7" stroke-linecap="butt"/>
<line x1="193.4" y1="573.75" x2="198.20000000000002" y2="573.75" stroke="#111111" stroke-width="1.6" stroke-linecap="butt"/>
<rect x="191.25" y="578.3" width="9.1" height="14.5" fill="#23509f" stroke="#111111" stroke-width="1.6"/>
<line x1="209.8" y1="587.5" x2="209.8" y2="586.25" stroke="#111111" stroke-width="1.7" stroke-linecap="butt"/>
<line x1="207.4" y1="586.25" x2="212.20000000000002" y2="586.25" stroke="#111111" stroke-width="1.6" stroke-linecap="butt"/>
<rect x="205.25" y="588.3" width="9.1" height="4.5" fill="#ffffff" stroke="#111111" stroke-width="1.6"/>
<line x1="223.8" y1="560.5" x2="223.8" y2="547.5" stroke="#111111" stroke-width="1.7" stroke-linecap="butt"/>
<line x1="221.4" y1="547.5" x2="226.20000000000002" y2="547.5" stroke="#111111" stroke-width="1.6" stroke-linecap="butt"/>
<rect x="219.25" y="561.3" width="9.1" height="31.5" fill="#5bb04a" stroke="#111111" stroke-width="1.6"/>
<line x1="237.8" y1="587" x2="237.8" y2="585.75" stroke="#111111" stroke-width="1.7" stroke-linecap="butt"/>
<line x1="235.4" y1="585.75" x2="240.20000000000002" y2="585.75" stroke="#111111" stroke-width="1.6" stroke-linecap="butt"/>
<rect x="233.25" y="587.8" width="9.1" height="5" fill="#23509f" stroke="#111111" stroke-width="1.6"/>
<line x1="76.69999999999999" y1="479" x2="76.69999999999999" y2="592.9" stroke="#111111" stroke-width="1.7" stroke-linecap="butt"/>
<line x1="76.19999999999999" y1="592.3" x2="243.8" y2="592.3" stroke="#111111" stroke-width="2.1" stroke-linecap="butt"/>
<line x1="71.89999999999999" y1="495" x2="76.6" y2="495" stroke="#111111" stroke-width="1.5" stroke-linecap="butt"/>
<text x="69.4" y="498.35" font-size="9.4" text-anchor="end" textLength="17.2" lengthAdjust="spacingAndGlyphs">12.5</text>
<line x1="71.89999999999999" y1="514.4" x2="76.6" y2="514.4" stroke="#111111" stroke-width="1.5" stroke-linecap="butt"/>
<text x="69.4" y="517.75" font-size="9.4" text-anchor="end" textLength="17.2" lengthAdjust="spacingAndGlyphs">10.0</text>
<line x1="71.89999999999999" y1="533.8" x2="76.6" y2="533.8" stroke="#111111" stroke-width="1.5" stroke-linecap="butt"/>
<text x="69.4" y="537.15" font-size="9.4" text-anchor="end" textLength="12.2" lengthAdjust="spacingAndGlyphs">7.5</text>
<line x1="71.89999999999999" y1="553.2" x2="76.6" y2="553.2" stroke="#111111" stroke-width="1.5" stroke-linecap="butt"/>
<text x="69.4" y="556.55" font-size="9.4" text-anchor="end" textLength="12.2" lengthAdjust="spacingAndGlyphs">5.0</text>
<line x1="71.89999999999999" y1="572.6" x2="76.6" y2="572.6" stroke="#111111" stroke-width="1.5" stroke-linecap="butt"/>
<text x="69.4" y="575.95" font-size="9.4" text-anchor="end" textLength="12.2" lengthAdjust="spacingAndGlyphs">2.5</text>
<line x1="71.89999999999999" y1="592" x2="76.6" y2="592" stroke="#111111" stroke-width="1.5" stroke-linecap="butt"/>
<text x="69.4" y="595.35" font-size="9.4" text-anchor="end" textLength="5.0" lengthAdjust="spacingAndGlyphs">0</text>
<line x1="83.8" y1="592" x2="83.8" y2="596.6" stroke="#111111" stroke-width="1.5" stroke-linecap="butt"/>
<text x="87.2" y="600.3" font-size="9.4" text-anchor="end" textLength="26.6" lengthAdjust="spacingAndGlyphs" transform="rotate(-90 87.2 600.3)">DMSO</text>
<line x1="97.8" y1="592" x2="97.8" y2="596.6" stroke="#111111" stroke-width="1.5" stroke-linecap="butt"/>
<text x="101.2" y="600.3" font-size="9.4" text-anchor="end" textLength="51.5" lengthAdjust="spacingAndGlyphs" transform="rotate(-90 101.2 600.3)">CHIR-99021</text>
<path d="M94.2 651.4V652.4H101.39999999999999V651.4" fill="none" stroke="#a8dba4" stroke-width="0.6"/>
<line x1="111.8" y1="592" x2="111.8" y2="596.6" stroke="#111111" stroke-width="1.5" stroke-linecap="butt"/>
<text x="115.2" y="600.3" font-size="9.4" text-anchor="end" textLength="28.8" lengthAdjust="spacingAndGlyphs" transform="rotate(-90 115.2 600.3)">CI-994</text>
<path d="M108.2 628.6999999999999V629.6999999999999H115.39999999999999V628.6999999999999" fill="none" stroke="#a8dba4" stroke-width="0.6"/>
<line x1="125.8" y1="592" x2="125.8" y2="596.6" stroke="#111111" stroke-width="1.5" stroke-linecap="butt"/>
<text x="129.2" y="600.3" font-size="9.4" text-anchor="end" textLength="26.6" lengthAdjust="spacingAndGlyphs" transform="rotate(-90 129.2 600.3)">DMSO</text>
<line x1="139.8" y1="592" x2="139.8" y2="596.6" stroke="#111111" stroke-width="1.5" stroke-linecap="butt"/>
<text x="143.2" y="600.3" font-size="9.4" text-anchor="end" textLength="51.5" lengthAdjust="spacingAndGlyphs" transform="rotate(-90 143.2 600.3)">CHIR-99021</text>
<path d="M136.20000000000002 651.4V652.4H143.4V651.4" fill="none" stroke="#a8dba4" stroke-width="0.6"/>
<line x1="153.8" y1="592" x2="153.8" y2="596.6" stroke="#111111" stroke-width="1.5" stroke-linecap="butt"/>
<text x="157.2" y="600.3" font-size="9.4" text-anchor="end" textLength="28.8" lengthAdjust="spacingAndGlyphs" transform="rotate(-90 157.2 600.3)">CI-994</text>
<path d="M150.20000000000002 628.6999999999999V629.6999999999999H157.4V628.6999999999999" fill="none" stroke="#a8dba4" stroke-width="0.6"/>
<line x1="167.8" y1="592" x2="167.8" y2="596.6" stroke="#111111" stroke-width="1.5" stroke-linecap="butt"/>
<text x="171.2" y="600.3" font-size="9.4" text-anchor="end" textLength="26.6" lengthAdjust="spacingAndGlyphs" transform="rotate(-90 171.2 600.3)">DMSO</text>
<line x1="181.8" y1="592" x2="181.8" y2="596.6" stroke="#111111" stroke-width="1.5" stroke-linecap="butt"/>
<text x="185.2" y="600.3" font-size="9.4" text-anchor="end" textLength="51.5" lengthAdjust="spacingAndGlyphs" transform="rotate(-90 185.2 600.3)">CHIR-99021</text>
<path d="M178.20000000000002 651.4V652.4H185.4V651.4" fill="none" stroke="#a8dba4" stroke-width="0.6"/>
<line x1="195.8" y1="592" x2="195.8" y2="596.6" stroke="#111111" stroke-width="1.5" stroke-linecap="butt"/>
<text x="199.2" y="600.3" font-size="9.4" text-anchor="end" textLength="28.8" lengthAdjust="spacingAndGlyphs" transform="rotate(-90 199.2 600.3)">CI-994</text>
<path d="M192.20000000000002 628.6999999999999V629.6999999999999H199.4V628.6999999999999" fill="none" stroke="#a8dba4" stroke-width="0.6"/>
<line x1="209.8" y1="592" x2="209.8" y2="596.6" stroke="#111111" stroke-width="1.5" stroke-linecap="butt"/>
<text x="213.2" y="600.3" font-size="9.4" text-anchor="end" textLength="26.6" lengthAdjust="spacingAndGlyphs" transform="rotate(-90 213.2 600.3)">DMSO</text>
<line x1="223.8" y1="592" x2="223.8" y2="596.6" stroke="#111111" stroke-width="1.5" stroke-linecap="butt"/>
<text x="227.2" y="600.3" font-size="9.4" text-anchor="end" textLength="51.5" lengthAdjust="spacingAndGlyphs" transform="rotate(-90 227.2 600.3)">CHIR-99021</text>
<path d="M220.20000000000002 651.4V652.4H227.4V651.4" fill="none" stroke="#a8dba4" stroke-width="0.6"/>
<line x1="237.8" y1="592" x2="237.8" y2="596.6" stroke="#111111" stroke-width="1.5" stroke-linecap="butt"/>
<text x="241.2" y="600.3" font-size="9.4" text-anchor="end" textLength="28.8" lengthAdjust="spacingAndGlyphs" transform="rotate(-90 241.2 600.3)">CI-994</text>
<path d="M234.20000000000002 628.6999999999999V629.6999999999999H241.4V628.6999999999999" fill="none" stroke="#a8dba4" stroke-width="0.6"/>
<line x1="83.8" y1="658.1" x2="113.0" y2="658.1" stroke="#111111" stroke-width="1.8" stroke-linecap="butt"/>
<text x="98.2" y="669.1" font-size="9.4" text-anchor="middle" textLength="39.3" lengthAdjust="spacingAndGlyphs">Control 1</text>
<line x1="125.8" y1="658.1" x2="155.0" y2="658.1" stroke="#111111" stroke-width="1.8" stroke-linecap="butt"/>
<text x="140.2" y="669.1" font-size="9.4" text-anchor="middle" textLength="39.3" lengthAdjust="spacingAndGlyphs">Control 2</text>
<line x1="167.8" y1="658.1" x2="197.0" y2="658.1" stroke="#111111" stroke-width="1.8" stroke-linecap="butt"/>
<text x="182.2" y="669.1" font-size="9.4" text-anchor="middle" textLength="38.3" lengthAdjust="spacingAndGlyphs">Patient 1</text>
<line x1="209.8" y1="658.1" x2="239.0" y2="658.1" stroke="#111111" stroke-width="1.8" stroke-linecap="butt"/>
<text x="224.2" y="669.1" font-size="9.4" text-anchor="middle" textLength="38.3" lengthAdjust="spacingAndGlyphs">Patient 2</text>
<path d="M83.8 582.5V508.8H98V513.8" fill="none" stroke="#111111" stroke-width="1.5" stroke-linejoin="miter"/>
<text x="77.12" y="507.16" font-size="11.0" letter-spacing="2.32" style="stroke-width:.55px" font-family='"DejaVu Sans", "Liberation Sans", sans-serif'>****</text>
<path d="M125.8 567.5V475.2H140V478.3" fill="none" stroke="#111111" stroke-width="1.5" stroke-linejoin="miter"/>
<text x="118.87" y="474.16" font-size="11.0" letter-spacing="2.16" style="stroke-width:.55px" font-family='"DejaVu Sans", "Liberation Sans", sans-serif'>****</text>
<path d="M167 577.5V488.7H181.3V491.3" fill="none" stroke="#111111" stroke-width="1.5" stroke-linejoin="miter"/>
<text x="160.22" y="487.16" font-size="11.0" letter-spacing="2.46" style="stroke-width:.55px" font-family='"DejaVu Sans", "Liberation Sans", sans-serif'>****</text>
<path d="M209.2 584.3V540.6H223.3V543.8" fill="none" stroke="#111111" stroke-width="1.5" stroke-linejoin="miter"/>
<text x="210.17" y="538.66" font-size="11.0" letter-spacing="2.47" style="stroke-width:.55px" font-family='"DejaVu Sans", "Liberation Sans", sans-serif'>**</text>
<text x="107.7" y="462.5" font-size="9.4" font-style="italic" textLength="20.2" lengthAdjust="spacingAndGlyphs">TCF4</text>
<text x="131.4" y="462.5" font-size="9.4" textLength="43.5" lengthAdjust="spacingAndGlyphs">transcripts</text>
<text x="178.4" y="462.5" font-size="9.4" textLength="23.1" lengthAdjust="spacingAndGlyphs">10/11</text>
<text x="45.7" y="544.5" font-size="9.4" text-anchor="middle" textLength="85" lengthAdjust="spacingAndGlyphs" transform="rotate(-90 45.7 544.5)">Relative mRNA level</text>
<text x="39.0" y="668.8" font-size="10.6" font-weight="bold">e</text>
</g>
<g id="pf">
<rect x="342.45" y="589.05" width="9.1" height="3.15" fill="#ffffff" stroke="#111111" stroke-width="1.6"/>
<line x1="361" y1="524.5" x2="361" y2="516.25" stroke="#111111" stroke-width="1.7" stroke-linecap="butt"/>
<line x1="358.6" y1="516.25" x2="363.4" y2="516.25" stroke="#111111" stroke-width="1.6" stroke-linecap="butt"/>
<rect x="356.45" y="525.3" width="9.1" height="66.9" fill="#5bb04a" stroke="#111111" stroke-width="1.6"/>
<rect x="370.45" y="590.3" width="9.1" height="1.9" fill="#23509f" stroke="#111111" stroke-width="1.6"/>
<rect x="384.45" y="590.3" width="9.1" height="1.9" fill="#ffffff" stroke="#111111" stroke-width="1.6"/>
<line x1="403" y1="500.75" x2="403" y2="484.25" stroke="#111111" stroke-width="1.7" stroke-linecap="butt"/>
<line x1="400.6" y1="484.25" x2="405.4" y2="484.25" stroke="#111111" stroke-width="1.6" stroke-linecap="butt"/>
<rect x="398.45" y="501.55" width="9.1" height="90.65" fill="#5bb04a" stroke="#111111" stroke-width="1.6"/>
<rect x="412.45" y="589.4" width="9.1" height="2.8" fill="#23509f" stroke="#111111" stroke-width="1.6"/>
<rect x="426.45" y="591.2" width="9.1" height="1.0" fill="#ffffff" stroke="#111111" stroke-width="1.6"/>
<line x1="445" y1="558.25" x2="445" y2="547.5" stroke="#111111" stroke-width="1.7" stroke-linecap="butt"/>
<line x1="442.6" y1="547.5" x2="447.4" y2="547.5" stroke="#111111" stroke-width="1.6" stroke-linecap="butt"/>
<rect x="440.45" y="559.05" width="9.1" height="33.15" fill="#5bb04a" stroke="#111111" stroke-width="1.6"/>
<rect x="454.45" y="590.3" width="9.1" height="1.9" fill="#23509f" stroke="#111111" stroke-width="1.6"/>
<rect x="468.45" y="590.8" width="9.1" height="1.4" fill="#ffffff" stroke="#111111" stroke-width="1.6"/>
<line x1="487" y1="548" x2="487" y2="535.75" stroke="#111111" stroke-width="1.7" stroke-linecap="butt"/>
<line x1="484.6" y1="535.75" x2="489.4" y2="535.75" stroke="#111111" stroke-width="1.6" stroke-linecap="butt"/>
<rect x="482.45" y="548.8" width="9.1" height="43.4" fill="#5bb04a" stroke="#111111" stroke-width="1.6"/>
<rect x="496.45" y="590.05" width="9.1" height="2.15" fill="#23509f" stroke="#111111" stroke-width="1.6"/>
<line x1="340.1" y1="477" x2="340.1" y2="592.3" stroke="#111111" stroke-width="1.7" stroke-linecap="butt"/>
<line x1="339.6" y1="591.6999999999999" x2="507" y2="591.6999999999999" stroke="#111111" stroke-width="2.1" stroke-linecap="butt"/>
<line x1="335.3" y1="488" x2="340" y2="488" stroke="#111111" stroke-width="1.5" stroke-linecap="butt"/>
<text x="335.8" y="491.35" font-size="9.4" text-anchor="end" textLength="15.0" lengthAdjust="spacingAndGlyphs">175</text>
<line x1="335.3" y1="502.8" x2="340" y2="502.8" stroke="#111111" stroke-width="1.5" stroke-linecap="butt"/>
<text x="335.8" y="506.15" font-size="9.4" text-anchor="end" textLength="15.0" lengthAdjust="spacingAndGlyphs">150</text>
<line x1="335.3" y1="517.5" x2="340" y2="517.5" stroke="#111111" stroke-width="1.5" stroke-linecap="butt"/>
<text x="335.8" y="520.85" font-size="9.4" text-anchor="end" textLength="15.0" lengthAdjust="spacingAndGlyphs">125</text>
<line x1="335.3" y1="532.2" x2="340" y2="532.2" stroke="#111111" stroke-width="1.5" stroke-linecap="butt"/>
<text x="335.8" y="535.55" font-size="9.4" text-anchor="end" textLength="15.0" lengthAdjust="spacingAndGlyphs">100</text>
<line x1="335.3" y1="547" x2="340" y2="547" stroke="#111111" stroke-width="1.5" stroke-linecap="butt"/>
<text x="335.8" y="550.35" font-size="9.4" text-anchor="end" textLength="10.0" lengthAdjust="spacingAndGlyphs">75</text>
<line x1="335.3" y1="561.8" x2="340" y2="561.8" stroke="#111111" stroke-width="1.5" stroke-linecap="butt"/>
<text x="335.8" y="565.15" font-size="9.4" text-anchor="end" textLength="10.0" lengthAdjust="spacingAndGlyphs">50</text>
<line x1="335.3" y1="576.7" x2="340" y2="576.7" stroke="#111111" stroke-width="1.5" stroke-linecap="butt"/>
<text x="335.8" y="580.05" font-size="9.4" text-anchor="end" textLength="10.0" lengthAdjust="spacingAndGlyphs">25</text>
<line x1="335.3" y1="591.4" x2="340" y2="591.4" stroke="#111111" stroke-width="1.5" stroke-linecap="butt"/>
<text x="335.8" y="594.75" font-size="9.4" text-anchor="end" textLength="5.0" lengthAdjust="spacingAndGlyphs">0</text>
<line x1="347" y1="591.4" x2="347" y2="596.0" stroke="#111111" stroke-width="1.5" stroke-linecap="butt"/>
<text x="350.4" y="599.7" font-size="9.4" text-anchor="end" textLength="26.6" lengthAdjust="spacingAndGlyphs" transform="rotate(-90 350.4 599.7)">DMSO</text>
<line x1="361" y1="591.4" x2="361" y2="596.0" stroke="#111111" stroke-width="1.5" stroke-linecap="butt"/>
<text x="364.4" y="599.7" font-size="9.4" text-anchor="end" textLength="51.5" lengthAdjust="spacingAndGlyphs" transform="rotate(-90 364.4 599.7)">CHIR-99021</text>
<path d="M357.4 650.8V651.8H364.6V650.8" fill="none" stroke="#a8dba4" stroke-width="0.6"/>
<line x1="375" y1="591.4" x2="375" y2="596.0" stroke="#111111" stroke-width="1.5" stroke-linecap="butt"/>
<text x="378.4" y="599.7" font-size="9.4" text-anchor="end" textLength="28.8" lengthAdjust="spacingAndGlyphs" transform="rotate(-90 378.4 599.7)">CI-994</text>
<path d="M371.4 628.0999999999999V629.0999999999999H378.6V628.0999999999999" fill="none" stroke="#a8dba4" stroke-width="0.6"/>
<line x1="389" y1="591.4" x2="389" y2="596.0" stroke="#111111" stroke-width="1.5" stroke-linecap="butt"/>
<text x="392.4" y="599.7" font-size="9.4" text-anchor="end" textLength="26.6" lengthAdjust="spacingAndGlyphs" transform="rotate(-90 392.4 599.7)">DMSO</text>
<line x1="403" y1="591.4" x2="403" y2="596.0" stroke="#111111" stroke-width="1.5" stroke-linecap="butt"/>
<text x="406.4" y="599.7" font-size="9.4" text-anchor="end" textLength="51.5" lengthAdjust="spacingAndGlyphs" transform="rotate(-90 406.4 599.7)">CHIR-99021</text>
<path d="M399.4 650.8V651.8H406.6V650.8" fill="none" stroke="#a8dba4" stroke-width="0.6"/>
<line x1="417" y1="591.4" x2="417" y2="596.0" stroke="#111111" stroke-width="1.5" stroke-linecap="butt"/>
<text x="420.4" y="599.7" font-size="9.4" text-anchor="end" textLength="28.8" lengthAdjust="spacingAndGlyphs" transform="rotate(-90 420.4 599.7)">CI-994</text>
<path d="M413.4 628.0999999999999V629.0999999999999H420.6V628.0999999999999" fill="none" stroke="#a8dba4" stroke-width="0.6"/>
<line x1="431" y1="591.4" x2="431" y2="596.0" stroke="#111111" stroke-width="1.5" stroke-linecap="butt"/>
<text x="434.4" y="599.7" font-size="9.4" text-anchor="end" textLength="26.6" lengthAdjust="spacingAndGlyphs" transform="rotate(-90 434.4 599.7)">DMSO</text>
<line x1="445" y1="591.4" x2="445" y2="596.0" stroke="#111111" stroke-width="1.5" stroke-linecap="butt"/>
<text x="448.4" y="599.7" font-size="9.4" text-anchor="end" textLength="51.5" lengthAdjust="spacingAndGlyphs" transform="rotate(-90 448.4 599.7)">CHIR-99021</text>
<path d="M441.4 650.8V651.8H448.6V650.8" fill="none" stroke="#a8dba4" stroke-width="0.6"/>
<line x1="459" y1="591.4" x2="459" y2="596.0" stroke="#111111" stroke-width="1.5" stroke-linecap="butt"/>
<text x="462.4" y="599.7" font-size="9.4" text-anchor="end" textLength="28.8" lengthAdjust="spacingAndGlyphs" transform="rotate(-90 462.4 599.7)">CI-994</text>
<path d="M455.4 628.0999999999999V629.0999999999999H462.6V628.0999999999999" fill="none" stroke="#a8dba4" stroke-width="0.6"/>
<line x1="473" y1="591.4" x2="473" y2="596.0" stroke="#111111" stroke-width="1.5" stroke-linecap="butt"/>
<text x="476.4" y="599.7" font-size="9.4" text-anchor="end" textLength="26.6" lengthAdjust="spacingAndGlyphs" transform="rotate(-90 476.4 599.7)">DMSO</text>
<line x1="487" y1="591.4" x2="487" y2="596.0" stroke="#111111" stroke-width="1.5" stroke-linecap="butt"/>
<text x="490.4" y="599.7" font-size="9.4" text-anchor="end" textLength="51.5" lengthAdjust="spacingAndGlyphs" transform="rotate(-90 490.4 599.7)">CHIR-99021</text>
<path d="M483.4 650.8V651.8H490.6V650.8" fill="none" stroke="#a8dba4" stroke-width="0.6"/>
<line x1="501" y1="591.4" x2="501" y2="596.0" stroke="#111111" stroke-width="1.5" stroke-linecap="butt"/>
<text x="504.4" y="599.7" font-size="9.4" text-anchor="end" textLength="28.8" lengthAdjust="spacingAndGlyphs" transform="rotate(-90 504.4 599.7)">CI-994</text>
<path d="M497.4 628.0999999999999V629.0999999999999H504.6V628.0999999999999" fill="none" stroke="#a8dba4" stroke-width="0.6"/>
<line x1="347" y1="657.5" x2="376.2" y2="657.5" stroke="#111111" stroke-width="1.8" stroke-linecap="butt"/>
<text x="361.4" y="668.5" font-size="9.4" text-anchor="middle" textLength="39.3" lengthAdjust="spacingAndGlyphs">Control 1</text>
<line x1="389" y1="657.5" x2="418.2" y2="657.5" stroke="#111111" stroke-width="1.8" stroke-linecap="butt"/>
<text x="403.4" y="668.5" font-size="9.4" text-anchor="middle" textLength="39.3" lengthAdjust="spacingAndGlyphs">Control 2</text>
<line x1="431" y1="657.5" x2="460.2" y2="657.5" stroke="#111111" stroke-width="1.8" stroke-linecap="butt"/>
<text x="445.4" y="668.5" font-size="9.4" text-anchor="middle" textLength="38.3" lengthAdjust="spacingAndGlyphs">Patient 1</text>
<line x1="473" y1="657.5" x2="502.2" y2="657.5" stroke="#111111" stroke-width="1.8" stroke-linecap="butt"/>
<text x="487.4" y="668.5" font-size="9.4" text-anchor="middle" textLength="38.3" lengthAdjust="spacingAndGlyphs">Patient 2</text>
<path d="M347 586.3V510.0H361.3V513.6" fill="none" stroke="#111111" stroke-width="1.5" stroke-linejoin="miter"/>
<text x="343.42" y="507.56" font-size="11.0" letter-spacing="2.74" style="stroke-width:.55px" font-family='"DejaVu Sans", "Liberation Sans", sans-serif'>***</text>
<path d="M388.3 587.5V478.6H402.5V481.3" fill="none" stroke="#111111" stroke-width="1.5" stroke-linejoin="miter"/>
<text x="381.67" y="477.86" font-size="11.0" letter-spacing="2.62" style="stroke-width:.55px" font-family='"DejaVu Sans", "Liberation Sans", sans-serif'>****</text>
<path d="M430 590V540.2H444.5V544.2" fill="none" stroke="#111111" stroke-width="1.5" stroke-linejoin="miter"/>
<text x="423.92" y="538.66" font-size="11.0" letter-spacing="2.32" style="stroke-width:.55px" font-family='"DejaVu Sans", "Liberation Sans", sans-serif'>****</text>
<path d="M472 589.3V527.9H486.3V532.8" fill="none" stroke="#111111" stroke-width="1.5" stroke-linejoin="miter"/>
<text x="464.67" y="525.36" font-size="11.0" letter-spacing="2.22" style="stroke-width:.55px" font-family='"DejaVu Sans", "Liberation Sans", sans-serif'>****</text>
<text x="376.3" y="464.6" font-size="9.4" font-style="italic" textLength="20.7" lengthAdjust="spacingAndGlyphs">TCF4</text>
<text x="400.2" y="464.6" font-size="9.4" textLength="39.8" lengthAdjust="spacingAndGlyphs">transcript</text>
<text x="443.6" y="464.6" font-size="9.4" textLength="9.0" lengthAdjust="spacingAndGlyphs">12</text>
<text x="311.7" y="539.5" font-size="9.4" text-anchor="middle" textLength="86" lengthAdjust="spacingAndGlyphs" transform="rotate(-90 311.7 539.5)">Relative mRNA level</text>
<text x="306.8" y="668.8" font-size="10.6" font-weight="bold">f</text>
</g>
</svg>
</body></html>
